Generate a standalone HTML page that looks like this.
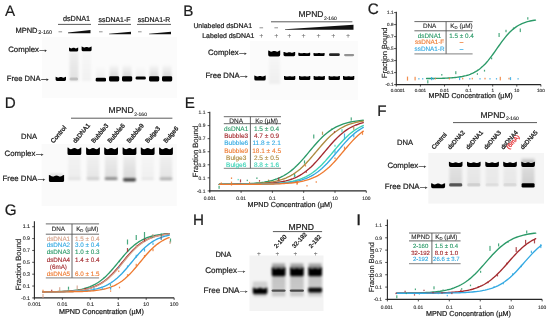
<!DOCTYPE html>
<html><head><meta charset="utf-8"><title>MPND binding figure</title>
<style>
html,body{margin:0;padding:0;background:#fff;width:550px;height:320px;overflow:hidden}
svg{display:block;font-family:"Liberation Sans", Arial, sans-serif;text-rendering:geometricPrecision}
</style></head><body>
<svg width="550" height="320" viewBox="0 0 550 320">
<defs>
<filter id="b1" x="-30%" y="-60%" width="160%" height="220%"><feGaussianBlur stdDeviation="0.6"/></filter>
<filter id="b15" x="-30%" y="-60%" width="160%" height="220%"><feGaussianBlur stdDeviation="0.9"/></filter>
<filter id="b05"><feGaussianBlur stdDeviation="0.6"/></filter>
<filter id="b2" x="-30%" y="-30%" width="160%" height="160%"><feGaussianBlur stdDeviation="1.0"/></filter>
</defs>
<rect width="550" height="320" fill="#fff"/>
<rect x="42" y="37" width="135" height="61" fill="#fbfbfb" />
<text x="4.97" y="15.6" font-size="15.2" text-anchor="start" fill="#1e1e1e" stroke="#1e1e1e" stroke-width="0.12">A</text>
<text x="76.5" y="21.3" font-size="7.3" text-anchor="middle" fill="#1e1e1e" stroke="#1e1e1e" stroke-width="0.22" >dsDNA1</text>
<text x="114.5" y="21.6" font-size="6.9" text-anchor="middle" fill="#1e1e1e" stroke="#1e1e1e" stroke-width="0.22" >ssDNA1-F</text>
<text x="154" y="21.6" font-size="6.9" text-anchor="middle" fill="#1e1e1e" stroke="#1e1e1e" stroke-width="0.22" >ssDNA1-R</text>
<line x1="58" y1="24.4" x2="91" y2="24.4" stroke="#5a5a5a" stroke-width="1.0"/>
<line x1="98" y1="24.4" x2="131" y2="24.4" stroke="#5a5a5a" stroke-width="1.0"/>
<line x1="137" y1="24.4" x2="171" y2="24.4" stroke="#5a5a5a" stroke-width="1.0"/>
<text x="15.4" y="32.7" font-size="7.5" fill="#1e1e1e" stroke="#1e1e1e" stroke-width="0.22">MPND<tspan font-size="5.35" dx="0.7" dy="1.30" stroke-width="0.12">2-160</tspan></text>
<line x1="58.5" y1="31.8" x2="62.1" y2="31.8" stroke="#888" stroke-width="0.9"/>
<line x1="99" y1="31.8" x2="102.6" y2="31.8" stroke="#888" stroke-width="0.9"/>
<line x1="138" y1="31.8" x2="141.6" y2="31.8" stroke="#888" stroke-width="0.9"/>
<polygon points="68,33.2 90.5,33.2 90.5,30.0 68,32.6" fill="#111"/>
<polygon points="109,34.3 131,34.3 131,31.8 109,33.7" fill="#111"/>
<polygon points="149,34.3 171,34.3 171,31.8 149,33.7" fill="#111"/>
<text x="8.2" y="51.9" font-size="7.8" fill="#1e1e1e" stroke="#1e1e1e" stroke-width="0.22">Complex</text>
<text x="37.06" y="51.9" font-size="7.8" fill="#1e1e1e" stroke="#1e1e1e" stroke-width="0.12" textLength="12.33" lengthAdjust="spacingAndGlyphs">→</text>
<text x="6.8" y="80.8" font-size="7.6" fill="#1e1e1e" stroke="#1e1e1e" stroke-width="0.22">Free DNA</text>
<text x="38.67" y="80.8" font-size="7.6" fill="#1e1e1e" stroke="#1e1e1e" stroke-width="0.12" textLength="12.33" lengthAdjust="spacingAndGlyphs">→</text>
<linearGradient id="sg1" x1="0" y1="0" x2="0" y2="1"><stop offset="0" stop-color="#000" stop-opacity="0.05"/><stop offset="1" stop-color="#000" stop-opacity="0.1"/></linearGradient>
<rect x="69.5" y="52" width="9.00" height="29.00" fill="url(#sg1)" filter="url(#b2)"/>
<linearGradient id="sg2" x1="0" y1="0" x2="0" y2="1"><stop offset="0" stop-color="#000" stop-opacity="0.015"/><stop offset="1" stop-color="#000" stop-opacity="0.04"/></linearGradient>
<rect x="82" y="52" width="9.00" height="29.00" fill="url(#sg2)" filter="url(#b2)"/>
<linearGradient id="sg3" x1="0" y1="0" x2="0" y2="1"><stop offset="0" stop-color="#000" stop-opacity="0.0"/><stop offset="1" stop-color="#000" stop-opacity="0.17"/></linearGradient>
<rect x="109.6" y="64" width="8.80" height="15.50" fill="url(#sg3)" filter="url(#b2)"/>
<linearGradient id="sg4" x1="0" y1="0" x2="0" y2="1"><stop offset="0" stop-color="#000" stop-opacity="0.0"/><stop offset="1" stop-color="#000" stop-opacity="0.17"/></linearGradient>
<rect x="122.6" y="64" width="8.80" height="15.50" fill="url(#sg4)" filter="url(#b2)"/>
<linearGradient id="sg5" x1="0" y1="0" x2="0" y2="1"><stop offset="0" stop-color="#000" stop-opacity="0.0"/><stop offset="1" stop-color="#000" stop-opacity="0.17"/></linearGradient>
<rect x="149.6" y="64" width="8.80" height="15.50" fill="url(#sg5)" filter="url(#b2)"/>
<linearGradient id="sg6" x1="0" y1="0" x2="0" y2="1"><stop offset="0" stop-color="#000" stop-opacity="0.0"/><stop offset="1" stop-color="#000" stop-opacity="0.17"/></linearGradient>
<rect x="162.6" y="64" width="8.80" height="15.50" fill="url(#sg6)" filter="url(#b2)"/>
<linearGradient id="sg7" x1="0" y1="0" x2="0" y2="1"><stop offset="0" stop-color="#000" stop-opacity="0.0"/><stop offset="1" stop-color="#000" stop-opacity="0.05"/></linearGradient>
<rect x="96.0" y="66" width="9.20" height="12.00" fill="url(#sg7)" filter="url(#b2)"/>
<linearGradient id="sg8" x1="0" y1="0" x2="0" y2="1"><stop offset="0" stop-color="#000" stop-opacity="0.0"/><stop offset="1" stop-color="#000" stop-opacity="0.05"/></linearGradient>
<rect x="136.0" y="66" width="9.20" height="12.00" fill="url(#sg8)" filter="url(#b2)"/>
<path d="M69.00,50.20 L69.00,47.40 C70.15,47.40 70.15,48.40 71.30,48.40 C72.45,48.40 72.45,47.75 73.60,47.75 C74.75,47.75 74.75,48.40 75.90,48.40 C77.05,48.40 77.05,47.40 78.20,47.40 L78.20,50.20 Q78.20,51.60 76.80,51.60 L70.40,51.60 Q69.00,51.60 69.00,50.20 Z" fill="#000" fill-opacity="1.0" filter="url(#b1)"/>
<path d="M81.60,49.67 L81.60,46.60 C82.85,46.60 82.85,47.60 84.10,47.60 C85.35,47.60 85.35,46.95 86.60,46.95 C87.85,46.95 87.85,47.60 89.10,47.60 C90.35,47.60 90.35,46.60 91.60,46.60 L91.60,49.67 Q91.60,51.20 90.07,51.20 L83.13,51.20 Q81.60,51.20 81.60,49.67 Z" fill="#000" fill-opacity="1.0" filter="url(#b1)"/>
<path d="M55.60,79.60 L55.60,76.80 C56.90,76.80 56.90,77.70 58.20,77.70 C59.50,77.70 59.50,77.11 60.80,77.11 C62.10,77.11 62.10,77.70 63.40,77.70 C64.70,77.70 64.70,76.80 66.00,76.80 L66.00,79.60 Q66.00,81.00 64.60,81.00 L57.00,81.00 Q55.60,81.00 55.60,79.60 Z" fill="#000" fill-opacity="1.0" filter="url(#b1)"/>
<rect x="69.6" y="77.4" width="8.40" height="3.20" rx="1.3" fill="#000" fill-opacity="0.16" filter="url(#b1)"/>
<rect x="95.7" y="77.8" width="10.30" height="3.70" rx="1.3" fill="#000" fill-opacity="1.0" filter="url(#b1)"/>
<rect x="109" y="76.3" width="10.20" height="5.10" rx="1.3" fill="#000" fill-opacity="1.0" filter="url(#b1)"/>
<rect x="122" y="76.3" width="10.20" height="5.10" rx="1.3" fill="#000" fill-opacity="1.0" filter="url(#b1)"/>
<rect x="135.6" y="76.4" width="10.20" height="3.20" rx="1.3" fill="#000" fill-opacity="1.0" filter="url(#b1)"/>
<rect x="149" y="76.3" width="10.20" height="5.10" rx="1.3" fill="#000" fill-opacity="1.0" filter="url(#b1)"/>
<rect x="162" y="76.3" width="10.20" height="5.10" rx="1.3" fill="#000" fill-opacity="1.0" filter="url(#b1)"/>
<rect x="250" y="41" width="108" height="59" fill="#fbfbfb" />
<text x="183.25" y="16.4" font-size="15.2" text-anchor="start" fill="#1e1e1e" stroke="#1e1e1e" stroke-width="0.22" >B</text>
<text x="252" y="28.2" font-size="6.9" text-anchor="end" fill="#1e1e1e" stroke="#1e1e1e" stroke-width="0.22" >Unlabeled dsDNA1</text>
<text x="254.4" y="37.6" font-size="6.9" text-anchor="end" fill="#1e1e1e" stroke="#1e1e1e" stroke-width="0.22" >Labeled dsDNA1</text>
<text x="298.4" y="17.3" font-size="8.5" fill="#1e1e1e" stroke="#1e1e1e" stroke-width="0.22">MPND<tspan font-size="5.01" dx="0.5" dy="2.20" stroke-width="0.12">2-160</tspan></text>
<line x1="271" y1="21.8" x2="352.4" y2="21.8" stroke="#5a5a5a" stroke-width="1.0"/>
<line x1="259.5" y1="27.8" x2="263.1" y2="27.8" stroke="#888" stroke-width="0.9"/>
<line x1="274.4" y1="27.8" x2="278.0" y2="27.8" stroke="#888" stroke-width="0.9"/>
<polygon points="285,29.8 353.5,29.8 353.5,24.8 285,29.2" fill="#111"/>
<text x="261.4" y="38.0" font-size="7" text-anchor="middle" fill="#6a6a6a" stroke="#6a6a6a" stroke-width="0.05" >+</text>
<text x="276.4" y="38.0" font-size="7" text-anchor="middle" fill="#6a6a6a" stroke="#6a6a6a" stroke-width="0.05" >+</text>
<text x="289.4" y="38.0" font-size="7" text-anchor="middle" fill="#6a6a6a" stroke="#6a6a6a" stroke-width="0.05" >+</text>
<text x="303.6" y="38.0" font-size="7" text-anchor="middle" fill="#6a6a6a" stroke="#6a6a6a" stroke-width="0.05" >+</text>
<text x="318.6" y="38.0" font-size="7" text-anchor="middle" fill="#6a6a6a" stroke="#6a6a6a" stroke-width="0.05" >+</text>
<text x="333.4" y="38.0" font-size="7" text-anchor="middle" fill="#6a6a6a" stroke="#6a6a6a" stroke-width="0.05" >+</text>
<text x="348" y="38.0" font-size="7" text-anchor="middle" fill="#6a6a6a" stroke="#6a6a6a" stroke-width="0.05" >+</text>
<text x="208" y="55.1" font-size="7.75" fill="#1e1e1e" stroke="#1e1e1e" stroke-width="0.22">Complex</text>
<text x="236.66" y="55.1" font-size="7.75" fill="#1e1e1e" stroke="#1e1e1e" stroke-width="0.12" textLength="12.33" lengthAdjust="spacingAndGlyphs">→</text>
<text x="205.4" y="78.3" font-size="7.7" fill="#1e1e1e" stroke="#1e1e1e" stroke-width="0.22">Free DNA</text>
<text x="237.71" y="78.3" font-size="7.7" fill="#1e1e1e" stroke="#1e1e1e" stroke-width="0.12" textLength="12.33" lengthAdjust="spacingAndGlyphs">→</text>
<linearGradient id="sg9" x1="0" y1="0" x2="0" y2="1"><stop offset="0" stop-color="#000" stop-opacity="0.02"/><stop offset="1" stop-color="#000" stop-opacity="0.05"/></linearGradient>
<rect x="269" y="57" width="11.00" height="27.00" fill="url(#sg9)" filter="url(#b2)"/>
<path d="M268.20,54.80 L268.20,50.60 C269.70,50.60 269.70,51.70 271.20,51.70 C272.70,51.70 272.70,50.98 274.20,50.98 C275.70,50.98 275.70,51.70 277.20,51.70 C278.70,51.70 278.70,50.60 280.20,50.60 L280.20,54.80 Q280.20,56.40 278.60,56.40 L269.80,56.40 Q268.20,56.40 268.20,54.80 Z" fill="#000" fill-opacity="1.0" filter="url(#b1)"/>
<path d="M283.50,54.87 L283.50,52.00 C284.96,52.00 284.96,52.70 286.43,52.70 C287.89,52.70 287.89,52.24 289.35,52.24 C290.81,52.24 290.81,52.70 292.27,52.70 C293.74,52.70 293.74,52.00 295.20,52.00 L295.20,54.87 Q295.20,56.30 293.77,56.30 L284.93,56.30 Q283.50,56.30 283.50,54.87 Z" fill="#000" fill-opacity="1.0" filter="url(#b1)"/>
<path d="M298.30,54.90 L298.30,52.70 C299.79,52.70 299.79,53.20 301.27,53.20 C302.76,53.20 302.76,52.88 304.25,52.88 C305.74,52.88 305.74,53.20 307.23,53.20 C308.71,53.20 308.71,52.70 310.20,52.70 L310.20,54.90 Q310.20,56.00 309.10,56.00 L299.40,56.00 Q298.30,56.00 298.30,54.90 Z" fill="#000" fill-opacity="1.0" filter="url(#b1)"/>
<path d="M313.50,54.90 L313.50,52.90 C314.89,52.90 314.89,53.30 316.27,53.30 C317.66,53.30 317.66,53.04 319.05,53.04 C320.44,53.04 320.44,53.30 321.83,53.30 C323.21,53.30 323.21,52.90 324.60,52.90 L324.60,54.90 Q324.60,55.90 323.60,55.90 L314.50,55.90 Q313.50,55.90 313.50,54.90 Z" fill="#000" fill-opacity="1.0" filter="url(#b1)"/>
<rect x="329" y="53.3" width="10.80" height="2.70" rx="1.3" fill="#000" fill-opacity="0.85" filter="url(#b1)"/>
<rect x="344" y="54.0" width="10.20" height="2.20" rx="1.3" fill="#000" fill-opacity="0.42" filter="url(#b1)"/>
<path d="M254.30,79.00 L254.30,75.60 C255.73,75.60 255.73,76.60 257.15,76.60 C258.57,76.60 258.57,75.95 260.00,75.95 C261.43,75.95 261.43,76.60 262.85,76.60 C264.27,76.60 264.27,75.60 265.70,75.60 L265.70,79.00 Q265.70,80.60 264.10,80.60 L255.90,80.60 Q254.30,80.60 254.30,79.00 Z" fill="#000" fill-opacity="1.0" filter="url(#b1)"/>
<path d="M284.00,78.63 L284.00,76.10 C285.41,76.10 285.41,76.60 286.82,76.60 C288.24,76.60 288.24,76.27 289.65,76.27 C291.06,76.27 291.06,76.60 292.48,76.60 C293.89,76.60 293.89,76.10 295.30,76.10 L295.30,78.63 Q295.30,79.90 294.03,79.90 L285.27,79.90 Q284.00,79.90 284.00,78.63 Z" fill="#000" fill-opacity="1.0" filter="url(#b1)"/>
<path d="M299.00,78.63 L299.00,76.10 C300.41,76.10 300.41,76.60 301.82,76.60 C303.24,76.60 303.24,76.27 304.65,76.27 C306.06,76.27 306.06,76.60 307.48,76.60 C308.89,76.60 308.89,76.10 310.30,76.10 L310.30,78.63 Q310.30,79.90 309.03,79.90 L300.27,79.90 Q299.00,79.90 299.00,78.63 Z" fill="#000" fill-opacity="1.0" filter="url(#b1)"/>
<path d="M313.60,78.63 L313.60,76.10 C315.01,76.10 315.01,76.60 316.43,76.60 C317.84,76.60 317.84,76.27 319.25,76.27 C320.66,76.27 320.66,76.60 322.08,76.60 C323.49,76.60 323.49,76.10 324.90,76.10 L324.90,78.63 Q324.90,79.90 323.63,79.90 L314.87,79.90 Q313.60,79.90 313.60,78.63 Z" fill="#000" fill-opacity="1.0" filter="url(#b1)"/>
<path d="M328.60,78.63 L328.60,76.10 C330.01,76.10 330.01,76.60 331.43,76.60 C332.84,76.60 332.84,76.27 334.25,76.27 C335.66,76.27 335.66,76.60 337.08,76.60 C338.49,76.60 338.49,76.10 339.90,76.10 L339.90,78.63 Q339.90,79.90 338.63,79.90 L329.87,79.90 Q328.60,79.90 328.60,78.63 Z" fill="#000" fill-opacity="1.0" filter="url(#b1)"/>
<path d="M343.00,78.63 L343.00,76.10 C344.41,76.10 344.41,76.60 345.82,76.60 C347.24,76.60 347.24,76.27 348.65,76.27 C350.06,76.27 350.06,76.60 351.48,76.60 C352.89,76.60 352.89,76.10 354.30,76.10 L354.30,78.63 Q354.30,79.90 353.03,79.90 L344.27,79.90 Q343.00,79.90 343.00,78.63 Z" fill="#000" fill-opacity="1.0" filter="url(#b1)"/>
<text x="367.8" y="13.95" font-size="15.2" text-anchor="start" fill="#1e1e1e" stroke="#1e1e1e" stroke-width="0.22" >C</text>
<line x1="396.3" y1="11.8" x2="396.3" y2="85.19999999999999" stroke="#262626" stroke-width="1.1"/>
<line x1="395.75" y1="84.6" x2="540.9000000000001" y2="84.6" stroke="#262626" stroke-width="1.2"/>
<line x1="394.1" y1="12.59999999999998" x2="396.3" y2="12.59999999999998" stroke="#262626" stroke-width="0.8"/>
<text x="393.5" y="14.34999999999998" font-size="4.6" text-anchor="end" fill="#2c2c2c" stroke="#2c2c2c" stroke-width="0.12" >1.1</text>
<line x1="394.1" y1="24.599999999999994" x2="396.3" y2="24.599999999999994" stroke="#262626" stroke-width="0.8"/>
<text x="393.5" y="26.349999999999994" font-size="4.6" text-anchor="end" fill="#2c2c2c" stroke="#2c2c2c" stroke-width="0.12" >0.9</text>
<line x1="394.1" y1="36.6" x2="396.3" y2="36.6" stroke="#262626" stroke-width="0.8"/>
<text x="393.5" y="38.35" font-size="4.6" text-anchor="end" fill="#2c2c2c" stroke="#2c2c2c" stroke-width="0.12" >0.7</text>
<line x1="394.1" y1="48.599999999999994" x2="396.3" y2="48.599999999999994" stroke="#262626" stroke-width="0.8"/>
<text x="393.5" y="50.349999999999994" font-size="4.6" text-anchor="end" fill="#2c2c2c" stroke="#2c2c2c" stroke-width="0.12" >0.5</text>
<line x1="394.1" y1="60.599999999999994" x2="396.3" y2="60.599999999999994" stroke="#262626" stroke-width="0.8"/>
<text x="393.5" y="62.349999999999994" font-size="4.6" text-anchor="end" fill="#2c2c2c" stroke="#2c2c2c" stroke-width="0.12" >0.3</text>
<line x1="394.1" y1="72.6" x2="396.3" y2="72.6" stroke="#262626" stroke-width="0.8"/>
<text x="393.5" y="74.35" font-size="4.6" text-anchor="end" fill="#2c2c2c" stroke="#2c2c2c" stroke-width="0.12" >0.1</text>
<line x1="394.1" y1="84.6" x2="396.3" y2="84.6" stroke="#262626" stroke-width="0.8"/>
<text x="393.5" y="86.35" font-size="4.6" text-anchor="end" fill="#2c2c2c" stroke="#2c2c2c" stroke-width="0.12" >-0.1</text>
<line x1="396.3" y1="84.6" x2="396.3" y2="86.6" stroke="#262626" stroke-width="0.8"/>
<text x="397.8" y="91.6" font-size="4.6" text-anchor="middle" fill="#2c2c2c" stroke="#2c2c2c" stroke-width="0.12" >0.0001</text>
<line x1="420.40000000000003" y1="84.6" x2="420.40000000000003" y2="86.6" stroke="#262626" stroke-width="0.8"/>
<text x="420.40000000000003" y="91.6" font-size="4.6" text-anchor="middle" fill="#2c2c2c" stroke="#2c2c2c" stroke-width="0.12" >0.001</text>
<line x1="444.5" y1="84.6" x2="444.5" y2="86.6" stroke="#262626" stroke-width="0.8"/>
<text x="444.5" y="91.6" font-size="4.6" text-anchor="middle" fill="#2c2c2c" stroke="#2c2c2c" stroke-width="0.12" >0.01</text>
<line x1="468.6" y1="84.6" x2="468.6" y2="86.6" stroke="#262626" stroke-width="0.8"/>
<text x="468.6" y="91.6" font-size="4.6" text-anchor="middle" fill="#2c2c2c" stroke="#2c2c2c" stroke-width="0.12" >0.1</text>
<line x1="492.70000000000005" y1="84.6" x2="492.70000000000005" y2="86.6" stroke="#262626" stroke-width="0.8"/>
<text x="492.70000000000005" y="91.6" font-size="4.6" text-anchor="middle" fill="#2c2c2c" stroke="#2c2c2c" stroke-width="0.12" >1</text>
<line x1="516.8" y1="84.6" x2="516.8" y2="86.6" stroke="#262626" stroke-width="0.8"/>
<text x="516.8" y="91.6" font-size="4.6" text-anchor="middle" fill="#2c2c2c" stroke="#2c2c2c" stroke-width="0.12" >10</text>
<line x1="540.9000000000001" y1="84.6" x2="540.9000000000001" y2="86.6" stroke="#262626" stroke-width="0.8"/>
<text x="540.9000000000001" y="91.6" font-size="4.6" text-anchor="middle" fill="#2c2c2c" stroke="#2c2c2c" stroke-width="0.12" >100</text>
<text x="470.6" y="98.3" font-size="7.15" text-anchor="middle" fill="#1e1e1e" stroke="#1e1e1e" stroke-width="0.22" >MPND Concentration (µM)</text>
<text x="386.7" y="52.8" font-size="7.45" text-anchor="middle" fill="#1e1e1e" stroke="#1e1e1e" stroke-width="0.15" transform="rotate(-90 386.7 52.8)">Fraction Bound</text>
<polyline points="426.55,78.53 427.91,78.52 429.28,78.51 430.64,78.49 432.00,78.48 433.36,78.46 434.73,78.44 436.09,78.42 437.45,78.40 438.81,78.37 440.18,78.34 441.54,78.30 442.90,78.26 444.26,78.21 445.63,78.16 446.99,78.10 448.35,78.03 449.71,77.95 451.08,77.86 452.44,77.76 453.80,77.64 455.16,77.51 456.53,77.36 457.89,77.20 459.25,77.01 460.61,76.79 461.98,76.55 463.34,76.27 464.70,75.96 466.07,75.62 467.43,75.23 468.79,74.79 470.15,74.29 471.52,73.74 472.88,73.13 474.24,72.45 475.60,71.69 476.97,70.85 478.33,69.93 479.69,68.92 481.05,67.82 482.42,66.62 483.78,65.32 485.14,63.93 486.50,62.43 487.87,60.85 489.23,59.18 490.59,57.44 491.95,55.62 493.32,53.75 494.68,51.83 496.04,49.89 497.40,47.94 498.77,46.00 500.13,44.07 501.49,42.18 502.85,40.35 504.22,38.58 505.58,36.88 506.94,35.27 508.30,33.75 509.67,32.32 511.03,30.99 512.39,29.76 513.75,28.63 515.12,27.59 516.48,26.64 517.84,25.77 519.20,24.99 520.57,24.29 521.93,23.65 523.29,23.08 524.65,22.57 526.02,22.11 527.38,21.71 528.74,21.34 530.10,21.02 531.47,20.74 532.83,20.48 534.19,20.26 535.55,20.06" fill="none" stroke="#2b9a68" stroke-width="1.35" stroke-linecap="round"/>
<rect x="406.90" y="76.60" width="1.2" height="4.00" fill="#ee7a30" fill-opacity="0.85"/>
<rect x="414.50" y="76.80" width="1.2" height="3.60" fill="#ee7a30" fill-opacity="0.85"/>
<rect x="434.80" y="77.80" width="1.2" height="1.60" fill="#ee7a30" fill-opacity="0.85"/>
<rect x="448.80" y="77.80" width="1.2" height="1.60" fill="#ee7a30" fill-opacity="0.85"/>
<rect x="462.10" y="77.80" width="1.2" height="1.60" fill="#ee7a30" fill-opacity="0.85"/>
<rect x="471.70" y="77.80" width="1.2" height="1.60" fill="#ee7a30" fill-opacity="0.85"/>
<rect x="484.40" y="77.80" width="1.2" height="1.60" fill="#ee7a30" fill-opacity="0.85"/>
<rect x="499.70" y="76.80" width="1.2" height="3.60" fill="#ee7a30" fill-opacity="0.85"/>
<rect x="508.40" y="77.80" width="1.2" height="1.60" fill="#ee7a30" fill-opacity="0.85"/>
<rect x="418.30" y="78.10" width="1.2" height="1.40" fill="#33a9e2" fill-opacity="0.85"/>
<rect x="422.10" y="78.10" width="1.2" height="1.40" fill="#33a9e2" fill-opacity="0.85"/>
<rect x="431.00" y="77.00" width="1.2" height="3.20" fill="#33a9e2" fill-opacity="0.85"/>
<rect x="433.10" y="78.10" width="1.2" height="1.40" fill="#33a9e2" fill-opacity="0.85"/>
<rect x="459.00" y="77.10" width="1.2" height="3.00" fill="#33a9e2" fill-opacity="0.85"/>
<rect x="469.20" y="78.10" width="1.2" height="1.40" fill="#33a9e2" fill-opacity="0.85"/>
<rect x="479.40" y="78.10" width="1.2" height="1.40" fill="#33a9e2" fill-opacity="0.85"/>
<rect x="489.40" y="78.10" width="1.2" height="1.40" fill="#33a9e2" fill-opacity="0.85"/>
<rect x="495.90" y="78.10" width="1.2" height="1.40" fill="#33a9e2" fill-opacity="0.85"/>
<rect x="509.90" y="77.10" width="1.2" height="3.00" fill="#33a9e2" fill-opacity="0.85"/>
<rect x="517.50" y="78.10" width="1.2" height="1.40" fill="#33a9e2" fill-opacity="0.85"/>
<rect x="427.20" y="80.20" width="1.2" height="3.20" fill="#2b9a68" fill-opacity="0.85"/>
<rect x="441.20" y="74.00" width="1.2" height="1.60" fill="#2b9a68" fill-opacity="0.85"/>
<rect x="455.20" y="71.20" width="1.2" height="3.00" fill="#2b9a68" fill-opacity="0.85"/>
<rect x="476.80" y="73.20" width="1.2" height="1.60" fill="#2b9a68" fill-opacity="0.85"/>
<rect x="483.90" y="69.80" width="1.2" height="1.80" fill="#2b9a68" fill-opacity="0.85"/>
<rect x="491.00" y="57.50" width="1.2" height="1.80" fill="#2b9a68" fill-opacity="0.85"/>
<rect x="498.50" y="33.00" width="1.2" height="4.00" fill="#2b9a68" fill-opacity="0.85"/>
<rect x="505.40" y="29.80" width="1.2" height="2.40" fill="#2b9a68" fill-opacity="0.85"/>
<rect x="512.90" y="27.50" width="1.2" height="1.80" fill="#2b9a68" fill-opacity="0.85"/>
<rect x="519.70" y="28.50" width="1.2" height="3.60" fill="#2b9a68" fill-opacity="0.85"/>
<rect x="527.20" y="17.20" width="1.2" height="2.40" fill="#2b9a68" fill-opacity="0.85"/>
<line x1="414.4" y1="21.6" x2="472.6" y2="21.6" stroke="#6a6a6a" stroke-width="1.0"/>
<line x1="414.4" y1="30.8" x2="472.6" y2="30.8" stroke="#6a6a6a" stroke-width="1.0"/>
<line x1="414.4" y1="53.8" x2="472.6" y2="53.8" stroke="#9a9a9a" stroke-width="1.3"/>
<line x1="446.1" y1="21.6" x2="446.1" y2="53.8" stroke="#555" stroke-width="0.9"/>
<text x="429.6" y="28.486000000000004" font-size="6.35" text-anchor="middle" fill="#1e1e1e" stroke="#1e1e1e" stroke-width="0.1" >DNA</text>
<text x="461.5" y="28.486000000000004" font-size="6.35" text-anchor="middle" fill="#1e1e1e" stroke="#1e1e1e" stroke-width="0.1">K<tspan font-size="4.3180000000000005" dy="0.9">D</tspan><tspan dy="-0.9"> (µM)</tspan></text>
<text x="429.6" y="37.586" font-size="6.35" text-anchor="middle" fill="#2b9a68" stroke="#2b9a68" stroke-width="0.12" >dsDNA1</text>
<text x="461.5" y="37.586" font-size="6.35" text-anchor="middle" fill="#2b9a68" stroke="#2b9a68" stroke-width="0.12" >1.5 ± 0.4</text>
<text x="429.6" y="44.186" font-size="6.35" text-anchor="middle" fill="#ee7a30" stroke="#ee7a30" stroke-width="0.12" >ssDNA1-F</text>
<text x="461.5" y="44.186" font-size="6.35" text-anchor="middle" fill="#ee7a30" stroke="#ee7a30" stroke-width="0.12" >–</text>
<text x="429.6" y="50.986000000000004" font-size="6.35" text-anchor="middle" fill="#33a9e2" stroke="#33a9e2" stroke-width="0.12" >ssDNA1-R</text>
<text x="461.5" y="50.986000000000004" font-size="6.35" text-anchor="middle" fill="#33a9e2" stroke="#33a9e2" stroke-width="0.12" >–</text>
<rect x="41.6" y="144" width="135.2" height="62" fill="#fafafa" />
<text x="4.65" y="107.5" font-size="15.2" text-anchor="start" fill="#1e1e1e" stroke="#1e1e1e" stroke-width="0.22" >D</text>
<text x="108.6" y="113.4" font-size="8.5" fill="#1e1e1e" stroke="#1e1e1e" stroke-width="0.22">MPND<tspan font-size="5.01" dx="0.5" dy="2.20" stroke-width="0.12">2-160</tspan></text>
<line x1="71" y1="118.2" x2="172.4" y2="118.2" stroke="#5a5a5a" stroke-width="1.0"/>
<text x="21" y="139.2" font-size="7.6" text-anchor="start" fill="#1e1e1e" stroke="#1e1e1e" stroke-width="0.22" >DNA</text>
<text x="53.6" y="143.6" font-size="6.3" fill="#1e1e1e" stroke="#1e1e1e" stroke-width="0.3" transform="rotate(-50 53.6 143.6)">Control</text>
<text x="75.4" y="143.6" font-size="6.3" fill="#1e1e1e" stroke="#1e1e1e" stroke-width="0.3" transform="rotate(-50 75.4 143.6)">dsDNA1</text>
<text x="94" y="143.6" font-size="6.3" fill="#1e1e1e" stroke="#1e1e1e" stroke-width="0.3" transform="rotate(-50 94 143.6)">Bubble3</text>
<text x="110.3" y="143.6" font-size="6.3" fill="#1e1e1e" stroke="#1e1e1e" stroke-width="0.3" transform="rotate(-50 110.3 143.6)">Bubble6</text>
<text x="129.4" y="143.6" font-size="6.3" fill="#1e1e1e" stroke="#1e1e1e" stroke-width="0.3" transform="rotate(-50 129.4 143.6)">Bubble9</text>
<text x="148.0" y="143.6" font-size="6.3" fill="#1e1e1e" stroke="#1e1e1e" stroke-width="0.3" transform="rotate(-50 148.0 143.6)">Bulge3</text>
<text x="166.2" y="143.6" font-size="6.3" fill="#1e1e1e" stroke="#1e1e1e" stroke-width="0.3" transform="rotate(-50 166.2 143.6)">Bulge6</text>
<text x="4.6" y="155.9" font-size="7.8" fill="#1e1e1e" stroke="#1e1e1e" stroke-width="0.22">Complex</text>
<text x="33.46" y="155.9" font-size="7.8" fill="#1e1e1e" stroke="#1e1e1e" stroke-width="0.12" textLength="12.33" lengthAdjust="spacingAndGlyphs">→</text>
<text x="2.6" y="180.6" font-size="7.8" fill="#1e1e1e" stroke="#1e1e1e" stroke-width="0.22">Free DNA</text>
<text x="35.36" y="180.6" font-size="7.8" fill="#1e1e1e" stroke="#1e1e1e" stroke-width="0.12" textLength="12.33" lengthAdjust="spacingAndGlyphs">→</text>
<linearGradient id="sg10" x1="0" y1="0" x2="0" y2="1"><stop offset="0" stop-color="#000" stop-opacity="0.03"/><stop offset="1" stop-color="#000" stop-opacity="0.05"/></linearGradient>
<rect x="68.2" y="156" width="12.40" height="24.00" fill="url(#sg10)" filter="url(#b2)"/>
<linearGradient id="sg11" x1="0" y1="0" x2="0" y2="1"><stop offset="0" stop-color="#000" stop-opacity="0.04"/><stop offset="1" stop-color="#000" stop-opacity="0.08"/></linearGradient>
<rect x="86.8" y="156" width="12.40" height="24.00" fill="url(#sg11)" filter="url(#b2)"/>
<linearGradient id="sg12" x1="0" y1="0" x2="0" y2="1"><stop offset="0" stop-color="#000" stop-opacity="0.05"/><stop offset="1" stop-color="#000" stop-opacity="0.12"/></linearGradient>
<rect x="104.89999999999999" y="156" width="12.40" height="24.00" fill="url(#sg12)" filter="url(#b2)"/>
<linearGradient id="sg13" x1="0" y1="0" x2="0" y2="1"><stop offset="0" stop-color="#000" stop-opacity="0.05"/><stop offset="1" stop-color="#000" stop-opacity="0.14"/></linearGradient>
<rect x="123.3" y="156" width="12.40" height="24.00" fill="url(#sg13)" filter="url(#b2)"/>
<linearGradient id="sg14" x1="0" y1="0" x2="0" y2="1"><stop offset="0" stop-color="#000" stop-opacity="0.02"/><stop offset="1" stop-color="#000" stop-opacity="0.04"/></linearGradient>
<rect x="141.5" y="156" width="12.40" height="24.00" fill="url(#sg14)" filter="url(#b2)"/>
<linearGradient id="sg15" x1="0" y1="0" x2="0" y2="1"><stop offset="0" stop-color="#000" stop-opacity="0.04"/><stop offset="1" stop-color="#000" stop-opacity="0.09"/></linearGradient>
<rect x="159.8" y="156" width="12.40" height="24.00" fill="url(#sg15)" filter="url(#b2)"/>
<path d="M48.90,180.40 L48.90,175.00 C50.80,175.00 50.80,176.60 52.70,176.60 C54.60,176.60 54.60,175.56 56.50,175.56 C58.40,175.56 58.40,176.60 60.30,176.60 C62.20,176.60 62.20,175.00 64.10,175.00 L64.10,180.40 Q64.10,182.00 62.50,182.00 L50.50,182.00 Q48.90,182.00 48.90,180.40 Z" fill="#000" fill-opacity="1.0" filter="url(#b1)"/>
<rect x="49.5" y="173.6" width="14.00" height="2.60" rx="1.3" fill="#000" fill-opacity="0.1" filter="url(#b15)"/>
<path d="M67.50,153.40 L67.50,147.40 C69.22,147.40 69.22,149.30 70.95,149.30 C72.68,149.30 72.68,148.06 74.40,148.06 C76.12,148.06 76.12,149.30 77.85,149.30 C79.58,149.30 79.58,147.40 81.30,147.40 L81.30,153.40 Q81.30,155.00 79.70,155.00 L69.10,155.00 Q67.50,155.00 67.50,153.40 Z" fill="#000" fill-opacity="1.0" filter="url(#b1)"/>
<rect x="68.0" y="177.2" width="12.80" height="3.00" rx="1.3" fill="#000" fill-opacity="0.05" filter="url(#b15)"/>
<path d="M86.10,153.40 L86.10,147.40 C87.82,147.40 87.82,149.30 89.55,149.30 C91.28,149.30 91.28,148.06 93.00,148.06 C94.72,148.06 94.72,149.30 96.45,149.30 C98.18,149.30 98.18,147.40 99.90,147.40 L99.90,153.40 Q99.90,155.00 98.30,155.00 L87.70,155.00 Q86.10,155.00 86.10,153.40 Z" fill="#000" fill-opacity="1.0" filter="url(#b1)"/>
<rect x="86.6" y="177.2" width="12.80" height="3.00" rx="1.3" fill="#000" fill-opacity="0.1" filter="url(#b15)"/>
<path d="M104.20,153.40 L104.20,147.40 C105.92,147.40 105.92,149.30 107.65,149.30 C109.38,149.30 109.38,148.06 111.10,148.06 C112.82,148.06 112.82,149.30 114.55,149.30 C116.28,149.30 116.28,147.40 118.00,147.40 L118.00,153.40 Q118.00,155.00 116.40,155.00 L105.80,155.00 Q104.20,155.00 104.20,153.40 Z" fill="#000" fill-opacity="1.0" filter="url(#b1)"/>
<rect x="104.69999999999999" y="177.2" width="12.80" height="2.80" rx="1.3" fill="#000" fill-opacity="0.38" filter="url(#b15)"/>
<path d="M122.60,153.40 L122.60,147.40 C124.32,147.40 124.32,149.30 126.05,149.30 C127.78,149.30 127.78,148.06 129.50,148.06 C131.22,148.06 131.22,149.30 132.95,149.30 C134.68,149.30 134.68,147.40 136.40,147.40 L136.40,153.40 Q136.40,155.00 134.80,155.00 L124.20,155.00 Q122.60,155.00 122.60,153.40 Z" fill="#000" fill-opacity="1.0" filter="url(#b1)"/>
<rect x="123.1" y="178.2" width="12.80" height="3.20" rx="1.3" fill="#000" fill-opacity="0.72" filter="url(#b15)"/>
<path d="M140.80,153.40 L140.80,147.40 C142.52,147.40 142.52,149.30 144.25,149.30 C145.97,149.30 145.97,148.06 147.70,148.06 C149.42,148.06 149.42,149.30 151.15,149.30 C152.88,149.30 152.88,147.40 154.60,147.40 L154.60,153.40 Q154.60,155.00 153.00,155.00 L142.40,155.00 Q140.80,155.00 140.80,153.40 Z" fill="#000" fill-opacity="1.0" filter="url(#b1)"/>
<rect x="141.29999999999998" y="177.5" width="12.80" height="2.70" rx="1.3" fill="#000" fill-opacity="0.04" filter="url(#b15)"/>
<path d="M159.10,153.40 L159.10,147.40 C160.82,147.40 160.82,149.30 162.55,149.30 C164.28,149.30 164.28,148.06 166.00,148.06 C167.72,148.06 167.72,149.30 169.45,149.30 C171.18,149.30 171.18,147.40 172.90,147.40 L172.90,153.40 Q172.90,155.00 171.30,155.00 L160.70,155.00 Q159.10,155.00 159.10,153.40 Z" fill="#000" fill-opacity="1.0" filter="url(#b1)"/>
<rect x="159.6" y="177.4" width="12.80" height="2.80" rx="1.3" fill="#000" fill-opacity="0.24" filter="url(#b15)"/>
<text x="184.65" y="107.8" font-size="15.2" text-anchor="start" fill="#1e1e1e" stroke="#1e1e1e" stroke-width="0.22" >E</text>
<line x1="209.8" y1="111.8" x2="209.8" y2="191.5" stroke="#262626" stroke-width="1.1"/>
<line x1="209.25" y1="190.9" x2="366.3" y2="190.9" stroke="#262626" stroke-width="1.2"/>
<line x1="207.60000000000002" y1="112.53999999999999" x2="209.8" y2="112.53999999999999" stroke="#262626" stroke-width="0.8"/>
<text x="205.4" y="114.28999999999999" font-size="4.9" text-anchor="end" fill="#2c2c2c" stroke="#2c2c2c" stroke-width="0.12" >1.1</text>
<line x1="207.60000000000002" y1="125.60000000000001" x2="209.8" y2="125.60000000000001" stroke="#262626" stroke-width="0.8"/>
<text x="205.4" y="127.35000000000001" font-size="4.9" text-anchor="end" fill="#2c2c2c" stroke="#2c2c2c" stroke-width="0.12" >0.9</text>
<line x1="207.60000000000002" y1="138.66000000000003" x2="209.8" y2="138.66000000000003" stroke="#262626" stroke-width="0.8"/>
<text x="205.4" y="140.41000000000003" font-size="4.9" text-anchor="end" fill="#2c2c2c" stroke="#2c2c2c" stroke-width="0.12" >0.7</text>
<line x1="207.60000000000002" y1="151.72" x2="209.8" y2="151.72" stroke="#262626" stroke-width="0.8"/>
<text x="205.4" y="153.47" font-size="4.9" text-anchor="end" fill="#2c2c2c" stroke="#2c2c2c" stroke-width="0.12" >0.5</text>
<line x1="207.60000000000002" y1="164.78" x2="209.8" y2="164.78" stroke="#262626" stroke-width="0.8"/>
<text x="205.4" y="166.53" font-size="4.9" text-anchor="end" fill="#2c2c2c" stroke="#2c2c2c" stroke-width="0.12" >0.3</text>
<line x1="207.60000000000002" y1="177.84" x2="209.8" y2="177.84" stroke="#262626" stroke-width="0.8"/>
<text x="205.4" y="179.59" font-size="4.9" text-anchor="end" fill="#2c2c2c" stroke="#2c2c2c" stroke-width="0.12" >0.1</text>
<line x1="207.60000000000002" y1="190.9" x2="209.8" y2="190.9" stroke="#262626" stroke-width="0.8"/>
<text x="205.4" y="192.65" font-size="4.9" text-anchor="end" fill="#2c2c2c" stroke="#2c2c2c" stroke-width="0.12" >-0.1</text>
<line x1="209.8" y1="190.9" x2="209.8" y2="192.9" stroke="#262626" stroke-width="0.8"/>
<text x="209.8" y="199.6" font-size="4.9" text-anchor="middle" fill="#2c2c2c" stroke="#2c2c2c" stroke-width="0.12" >0.001</text>
<line x1="241.10000000000002" y1="190.9" x2="241.10000000000002" y2="192.9" stroke="#262626" stroke-width="0.8"/>
<text x="241.10000000000002" y="199.6" font-size="4.9" text-anchor="middle" fill="#2c2c2c" stroke="#2c2c2c" stroke-width="0.12" >0.01</text>
<line x1="272.40000000000003" y1="190.9" x2="272.40000000000003" y2="192.9" stroke="#262626" stroke-width="0.8"/>
<text x="272.40000000000003" y="199.6" font-size="4.9" text-anchor="middle" fill="#2c2c2c" stroke="#2c2c2c" stroke-width="0.12" >0.1</text>
<line x1="303.70000000000005" y1="190.9" x2="303.70000000000005" y2="192.9" stroke="#262626" stroke-width="0.8"/>
<text x="303.70000000000005" y="199.6" font-size="4.9" text-anchor="middle" fill="#2c2c2c" stroke="#2c2c2c" stroke-width="0.12" >1</text>
<line x1="335.0" y1="190.9" x2="335.0" y2="192.9" stroke="#262626" stroke-width="0.8"/>
<text x="335.0" y="199.6" font-size="4.9" text-anchor="middle" fill="#2c2c2c" stroke="#2c2c2c" stroke-width="0.12" >10</text>
<line x1="366.3" y1="190.9" x2="366.3" y2="192.9" stroke="#262626" stroke-width="0.8"/>
<text x="366.3" y="199.6" font-size="4.9" text-anchor="middle" fill="#2c2c2c" stroke="#2c2c2c" stroke-width="0.12" >100</text>
<text x="290" y="207.3" font-size="7.2" text-anchor="middle" fill="#1e1e1e" stroke="#1e1e1e" stroke-width="0.22" >MPND Concentration (µM)</text>
<text x="198.0" y="151.5" font-size="7.6" text-anchor="middle" fill="#1e1e1e" stroke="#1e1e1e" stroke-width="0.15" transform="rotate(-90 198.0 151.5)">Fraction Bound</text>
<polyline points="219.22,184.28 221.02,184.27 222.82,184.26 224.62,184.24 226.42,184.22 228.23,184.20 230.03,184.18 231.83,184.15 233.63,184.12 235.43,184.08 237.23,184.04 239.03,184.00 240.83,183.95 242.63,183.89 244.43,183.82 246.23,183.74 248.03,183.65 249.83,183.55 251.63,183.44 253.43,183.31 255.23,183.16 257.03,182.99 258.83,182.80 260.64,182.59 262.44,182.34 264.24,182.07 266.04,181.75 267.84,181.40 269.64,181.00 271.44,180.55 273.24,180.05 275.04,179.48 276.84,178.85 278.64,178.14 280.44,177.35 282.24,176.48 284.04,175.51 285.84,174.45 287.64,173.28 289.44,172.01 291.24,170.62 293.05,169.13 294.85,167.53 296.65,165.82 298.45,164.01 300.25,162.11 302.05,160.13 303.85,158.08 305.65,155.97 307.45,153.83 309.25,151.67 311.05,149.51 312.85,147.38 314.65,145.27 316.45,143.22 318.25,141.25 320.05,139.35 321.85,137.54 323.65,135.84 325.46,134.24 327.26,132.76 329.06,131.38 330.86,130.11 332.66,128.95 334.46,127.89 336.26,126.92 338.06,126.05 339.86,125.27 341.66,124.57 343.46,123.93 345.26,123.37 347.06,122.87 348.86,122.42 350.66,122.02 352.46,121.67 354.26,121.36 356.06,121.09 357.87,120.84 359.67,120.63 361.47,120.44 363.27,120.27" fill="none" stroke="#2b9a68" stroke-width="1.35" stroke-linecap="round"/>
<polyline points="219.22,184.32 221.02,184.31 222.82,184.30 224.62,184.29 226.42,184.28 228.23,184.27 230.03,184.25 231.83,184.24 233.63,184.22 235.43,184.20 237.23,184.17 239.03,184.15 240.83,184.11 242.63,184.08 244.43,184.04 246.23,183.99 248.03,183.94 249.83,183.88 251.63,183.81 253.43,183.73 255.23,183.64 257.03,183.54 258.83,183.42 260.64,183.29 262.44,183.14 264.24,182.97 266.04,182.77 267.84,182.55 269.64,182.31 271.44,182.02 273.24,181.71 275.04,181.35 276.84,180.94 278.64,180.48 280.44,179.97 282.24,179.39 284.04,178.75 285.84,178.03 287.64,177.23 289.44,176.34 291.24,175.36 293.05,174.28 294.85,173.10 296.65,171.81 298.45,170.42 300.25,168.91 302.05,167.29 303.85,165.57 305.65,163.75 307.45,161.83 309.25,159.84 311.05,157.78 312.85,155.67 314.65,153.52 316.45,151.36 318.25,149.21 320.05,147.07 321.85,144.97 323.65,142.94 325.46,140.97 327.26,139.08 329.06,137.29 330.86,135.61 332.66,134.02 334.46,132.55 336.26,131.19 338.06,129.94 339.86,128.79 341.66,127.74 343.46,126.79 345.26,125.94 347.06,125.16 348.86,124.47 350.66,123.85 352.46,123.30 354.26,122.80 356.06,122.36 357.87,121.97 359.67,121.63 361.47,121.32 363.27,121.05" fill="none" stroke="#ad8b40" stroke-width="1.35" stroke-linecap="round"/>
<polyline points="219.22,184.34 221.02,184.34 222.82,184.33 224.62,184.33 226.42,184.32 228.23,184.32 230.03,184.31 231.83,184.30 233.63,184.29 235.43,184.28 237.23,184.27 239.03,184.25 240.83,184.23 242.63,184.21 244.43,184.19 246.23,184.17 248.03,184.14 249.83,184.11 251.63,184.07 253.43,184.03 255.23,183.98 257.03,183.92 258.83,183.86 260.64,183.79 262.44,183.71 264.24,183.62 266.04,183.51 267.84,183.39 269.64,183.26 271.44,183.10 273.24,182.92 275.04,182.73 276.84,182.50 278.64,182.24 280.44,181.95 282.24,181.62 284.04,181.25 285.84,180.84 287.64,180.37 289.44,179.84 291.24,179.25 293.05,178.59 294.85,177.85 296.65,177.03 298.45,176.12 300.25,175.12 302.05,174.02 303.85,172.81 305.65,171.50 307.45,170.07 309.25,168.54 311.05,166.90 312.85,165.15 314.65,163.30 316.45,161.37 318.25,159.36 320.05,157.29 321.85,155.17 323.65,153.02 325.46,150.86 327.26,148.70 329.06,146.58 330.86,144.49 332.66,142.47 334.46,140.52 336.26,138.66 338.06,136.89 339.86,135.23 341.66,133.67 343.46,132.22 345.26,130.89 347.06,129.66 348.86,128.53 350.66,127.51 352.46,126.59 354.26,125.75 356.06,125.00 357.87,124.32 359.67,123.71 361.47,123.17 363.27,122.69" fill="none" stroke="#a32a2e" stroke-width="1.35" stroke-linecap="round"/>
<polyline points="219.22,184.36 221.02,184.35 222.82,184.35 224.62,184.35 226.42,184.34 228.23,184.34 230.03,184.34 231.83,184.33 233.63,184.33 235.43,184.32 237.23,184.31 239.03,184.31 240.83,184.30 242.63,184.29 244.43,184.28 246.23,184.26 248.03,184.25 249.83,184.23 251.63,184.21 253.43,184.19 255.23,184.16 257.03,184.13 258.83,184.10 260.64,184.06 262.44,184.02 264.24,183.97 266.04,183.91 267.84,183.84 269.64,183.77 271.44,183.69 273.24,183.59 275.04,183.48 276.84,183.36 278.64,183.22 280.44,183.06 282.24,182.87 284.04,182.67 285.84,182.43 287.64,182.17 289.44,181.87 291.24,181.53 293.05,181.15 294.85,180.72 296.65,180.23 298.45,179.69 300.25,179.08 302.05,178.40 303.85,177.64 305.65,176.80 307.45,175.87 309.25,174.84 311.05,173.71 312.85,172.47 314.65,171.13 316.45,169.68 318.25,168.11 320.05,166.44 321.85,164.67 323.65,162.80 325.46,160.85 327.26,158.82 329.06,156.73 330.86,154.60 332.66,152.45 334.46,150.29 336.26,148.14 338.06,146.02 339.86,143.95 341.66,141.94 343.46,140.02 345.26,138.18 347.06,136.44 348.86,134.80 350.66,133.28 352.46,131.86 354.26,130.55 356.06,129.35 357.87,128.25 359.67,127.26 361.47,126.36 363.27,125.54" fill="none" stroke="#3ad3b6" stroke-width="1.35" stroke-linecap="round"/>
<polyline points="219.22,184.36 221.02,184.36 222.82,184.36 224.62,184.35 226.42,184.35 228.23,184.35 230.03,184.35 231.83,184.34 233.63,184.34 235.43,184.33 237.23,184.33 239.03,184.32 240.83,184.32 242.63,184.31 244.43,184.30 246.23,184.29 248.03,184.28 249.83,184.26 251.63,184.25 253.43,184.23 255.23,184.21 257.03,184.19 258.83,184.17 260.64,184.14 262.44,184.11 264.24,184.07 266.04,184.03 267.84,183.98 269.64,183.92 271.44,183.86 273.24,183.79 275.04,183.70 276.84,183.61 278.64,183.51 280.44,183.39 282.24,183.25 284.04,183.09 285.84,182.92 287.64,182.71 289.44,182.49 291.24,182.23 293.05,181.94 294.85,181.61 296.65,181.23 298.45,180.81 300.25,180.34 302.05,179.81 303.85,179.22 305.65,178.55 307.45,177.81 309.25,176.99 311.05,176.07 312.85,175.07 314.65,173.96 316.45,172.75 318.25,171.43 320.05,170.00 321.85,168.46 323.65,166.81 325.46,165.06 327.26,163.21 329.06,161.27 330.86,159.26 332.66,157.18 334.46,155.06 336.26,152.91 338.06,150.75 339.86,148.60 341.66,146.47 343.46,144.39 345.26,142.37 347.06,140.42 348.86,138.56 350.66,136.80 352.46,135.14 354.26,133.59 356.06,132.15 357.87,130.82 359.67,129.60 361.47,128.48 363.27,127.46" fill="none" stroke="#33a9e2" stroke-width="1.35" stroke-linecap="round"/>
<polyline points="219.22,184.36 221.02,184.36 222.82,184.36 224.62,184.36 226.42,184.36 228.23,184.36 230.03,184.35 231.83,184.35 233.63,184.35 235.43,184.35 237.23,184.34 239.03,184.34 240.83,184.33 242.63,184.33 244.43,184.32 246.23,184.32 248.03,184.31 249.83,184.30 251.63,184.29 253.43,184.28 255.23,184.27 257.03,184.25 258.83,184.24 260.64,184.22 262.44,184.20 264.24,184.17 266.04,184.14 267.84,184.11 269.64,184.08 271.44,184.04 273.24,183.99 275.04,183.93 276.84,183.87 278.64,183.80 280.44,183.72 282.24,183.63 284.04,183.53 285.84,183.41 287.64,183.28 289.44,183.13 291.24,182.96 293.05,182.76 294.85,182.54 296.65,182.29 298.45,182.01 300.25,181.69 302.05,181.32 303.85,180.92 305.65,180.46 307.45,179.94 309.25,179.36 311.05,178.71 312.85,177.99 314.65,177.18 316.45,176.29 318.25,175.31 320.05,174.22 321.85,173.03 323.65,171.74 325.46,170.34 327.26,168.82 329.06,167.20 330.86,165.47 332.66,163.64 334.46,161.73 336.26,159.73 338.06,157.67 339.86,155.55 341.66,153.41 343.46,151.25 345.26,149.09 347.06,146.95 348.86,144.86 350.66,142.83 352.46,140.86 354.26,138.98 356.06,137.20 357.87,135.52 359.67,133.94 361.47,132.47 363.27,131.12" fill="none" stroke="#ee7a30" stroke-width="1.35" stroke-linecap="round"/>
<rect x="218.50" y="185.80" width="1.2" height="3.00" fill="#2b9a68" fill-opacity="0.85"/>
<rect x="220.70" y="182.40" width="1.2" height="2.40" fill="#ee7a30" fill-opacity="0.85"/>
<rect x="230.90" y="177.40" width="1.2" height="1.60" fill="#ee7a30" fill-opacity="0.85"/>
<rect x="230.90" y="181.60" width="1.2" height="4.00" fill="#ee7a30" fill-opacity="0.85"/>
<rect x="237.60" y="178.90" width="1.2" height="1.40" fill="#3ad3b6" fill-opacity="0.85"/>
<rect x="239.90" y="179.40" width="1.2" height="3.00" fill="#a32a2e" fill-opacity="0.85"/>
<rect x="246.70" y="179.70" width="1.2" height="1.40" fill="#2b9a68" fill-opacity="0.85"/>
<rect x="249.00" y="181.90" width="1.2" height="1.60" fill="#ee7a30" fill-opacity="0.85"/>
<rect x="256.30" y="177.40" width="1.2" height="1.60" fill="#2b9a68" fill-opacity="0.85"/>
<rect x="258.90" y="180.10" width="1.2" height="1.60" fill="#a32a2e" fill-opacity="0.85"/>
<rect x="267.90" y="179.60" width="1.2" height="1.60" fill="#ad8b40" fill-opacity="0.85"/>
<rect x="278.10" y="177.60" width="1.2" height="3.00" fill="#a32a2e" fill-opacity="0.85"/>
<rect x="293.90" y="174.00" width="1.2" height="3.00" fill="#2b9a68" fill-opacity="0.85"/>
<rect x="296.70" y="181.20" width="1.2" height="3.00" fill="#ee7a30" fill-opacity="0.85"/>
<rect x="313.15" y="134.50" width="1.2" height="4.00" fill="#2b9a68" fill-opacity="0.85"/>
<rect x="321.90" y="131.65" width="1.2" height="3.20" fill="#ad8b40" fill-opacity="0.85"/>
<rect x="331.40" y="128.20" width="1.2" height="1.60" fill="#2b9a68" fill-opacity="0.85"/>
<rect x="333.90" y="131.20" width="1.2" height="1.60" fill="#a32a2e" fill-opacity="0.85"/>
<rect x="341.40" y="129.15" width="1.2" height="3.20" fill="#3ad3b6" fill-opacity="0.85"/>
<rect x="350.65" y="117.40" width="1.2" height="3.20" fill="#2b9a68" fill-opacity="0.85"/>
<rect x="353.15" y="126.65" width="1.2" height="3.20" fill="#ad8b40" fill-opacity="0.85"/>
<rect x="343.90" y="133.50" width="1.2" height="6.00" fill="#33a9e2" fill-opacity="0.85"/>
<rect x="334.40" y="144.75" width="1.2" height="2.00" fill="#3ad3b6" fill-opacity="0.85"/>
<rect x="334.40" y="150.40" width="1.2" height="3.20" fill="#33a9e2" fill-opacity="0.85"/>
<rect x="343.90" y="146.65" width="1.2" height="3.20" fill="#ee7a30" fill-opacity="0.85"/>
<rect x="334.40" y="157.45" width="1.2" height="1.60" fill="#ee7a30" fill-opacity="0.85"/>
<rect x="361.90" y="131.65" width="1.2" height="3.20" fill="#ee7a30" fill-opacity="0.85"/>
<rect x="353.15" y="134.15" width="1.2" height="3.20" fill="#33a9e2" fill-opacity="0.85"/>
<rect x="303.90" y="160.40" width="1.2" height="3.20" fill="#2b9a68" fill-opacity="0.85"/>
<rect x="304.90" y="164.95" width="1.2" height="1.60" fill="#ee7a30" fill-opacity="0.85"/>
<rect x="305.65" y="171.20" width="1.2" height="1.60" fill="#a32a2e" fill-opacity="0.85"/>
<rect x="294.40" y="174.95" width="1.2" height="1.60" fill="#3ad3b6" fill-opacity="0.85"/>
<rect x="296.40" y="181.75" width="1.2" height="3.00" fill="#ee7a30" fill-opacity="0.85"/>
<rect x="306.40" y="184.95" width="1.2" height="1.60" fill="#ee7a30" fill-opacity="0.85"/>
<rect x="315.65" y="181.20" width="1.2" height="1.60" fill="#ee7a30" fill-opacity="0.85"/>
<line x1="223.8" y1="116.7" x2="281" y2="116.7" stroke="#6a6a6a" stroke-width="1.0"/>
<line x1="223.8" y1="123.7" x2="281" y2="123.7" stroke="#6a6a6a" stroke-width="1.0"/>
<line x1="223.8" y1="168.3" x2="281" y2="168.3" stroke="#9a9a9a" stroke-width="1.3"/>
<line x1="250.4" y1="116.7" x2="250.4" y2="168.3" stroke="#555" stroke-width="0.9"/>
<text x="236.2" y="122.54" font-size="6.5" text-anchor="middle" fill="#1e1e1e" stroke="#1e1e1e" stroke-width="0.1" >DNA</text>
<text x="266.6" y="122.54" font-size="6.5" text-anchor="middle" fill="#1e1e1e" stroke="#1e1e1e" stroke-width="0.1">K<tspan font-size="4.42" dy="0.9">D</tspan><tspan dy="-0.9"> (µM)</tspan></text>
<text x="236.2" y="130.84" font-size="6.5" text-anchor="middle" fill="#2b9a68" stroke="#2b9a68" stroke-width="0.12" >dsDNA1</text>
<text x="266.6" y="130.84" font-size="6.5" text-anchor="middle" fill="#2b9a68" stroke="#2b9a68" stroke-width="0.12" >1.5 ± 0.4</text>
<text x="236.2" y="138.34" font-size="6.5" text-anchor="middle" fill="#a32a2e" stroke="#a32a2e" stroke-width="0.12" >Bubble3</text>
<text x="266.6" y="138.34" font-size="6.5" text-anchor="middle" fill="#a32a2e" stroke="#a32a2e" stroke-width="0.12" >4.7 ± 0.9</text>
<text x="236.2" y="145.34" font-size="6.5" text-anchor="middle" fill="#33a9e2" stroke="#33a9e2" stroke-width="0.12" >Bubble6</text>
<text x="266.6" y="145.34" font-size="6.5" text-anchor="middle" fill="#33a9e2" stroke="#33a9e2" stroke-width="0.12" >11.8 ± 2.1</text>
<text x="236.2" y="152.84" font-size="6.5" text-anchor="middle" fill="#ee7a30" stroke="#ee7a30" stroke-width="0.12" >Bubble9</text>
<text x="266.6" y="152.84" font-size="6.5" text-anchor="middle" fill="#ee7a30" stroke="#ee7a30" stroke-width="0.12" >18.1 ± 4.5</text>
<text x="236.2" y="159.74" font-size="6.5" text-anchor="middle" fill="#ad8b40" stroke="#ad8b40" stroke-width="0.12" >Bulge3</text>
<text x="266.6" y="159.74" font-size="6.5" text-anchor="middle" fill="#ad8b40" stroke="#ad8b40" stroke-width="0.12" >2.5 ± 0.5</text>
<text x="236.2" y="166.84" font-size="6.5" text-anchor="middle" fill="#3ad3b6" stroke="#3ad3b6" stroke-width="0.12" >Bulge6</text>
<text x="266.6" y="166.84" font-size="6.5" text-anchor="middle" fill="#3ad3b6" stroke="#3ad3b6" stroke-width="0.12" >8.8 ± 1.6</text>
<rect x="428.3" y="153" width="115.7" height="50.6" fill="#f5f5f5" />
<text x="377.35" y="115.6" font-size="15.2" text-anchor="start" fill="#1e1e1e" stroke="#1e1e1e" stroke-width="0.22" >F</text>
<text x="480.4" y="118.1" font-size="8.5" fill="#1e1e1e" stroke="#1e1e1e" stroke-width="0.22">MPND<tspan font-size="5.01" dx="0.5" dy="2.20" stroke-width="0.12">2-160</tspan></text>
<line x1="453" y1="122.6" x2="537" y2="122.6" stroke="#5a5a5a" stroke-width="1.0"/>
<text x="397" y="145.2" font-size="7.6" text-anchor="start" fill="#1e1e1e" stroke="#1e1e1e" stroke-width="0.22" >DNA</text>
<text x="434.2" y="149.8" font-size="6.1" fill="#1e1e1e" stroke="#1e1e1e" stroke-width="0.3" transform="rotate(-49 434.2 149.8)">Control</text>
<text x="450.3" y="149.8" font-size="6.1" fill="#1e1e1e" stroke="#1e1e1e" stroke-width="0.3" transform="rotate(-49 450.3 149.8)">dsDNA2</text>
<text x="468.5" y="149.8" font-size="6.1" fill="#1e1e1e" stroke="#1e1e1e" stroke-width="0.3" transform="rotate(-49 468.5 149.8)">dsDNA1</text>
<text x="486.6" y="149.8" font-size="6.1" fill="#1e1e1e" stroke="#1e1e1e" stroke-width="0.3" transform="rotate(-49 486.6 149.8)">dsDNA3</text>
<text x="503.4" y="149.8" font-size="6.1" fill="#1e1e1e" stroke="#1e1e1e" stroke-width="0.3" transform="rotate(-49 503.4 149.8)">dsDNA4</text>
<text x="523.1" y="149.8" font-size="6.1" fill="#1e1e1e" stroke="#1e1e1e" stroke-width="0.3" transform="rotate(-49 523.1 149.8)">dsDNA5</text>
<text x="509.0" y="149.4" font-size="6.1" fill="#e63a3e" stroke="#e63a3e" stroke-width="0.3" transform="rotate(-49 509.0 149.4)">(6mA)</text>
<text x="387.4" y="168.2" font-size="7.8" fill="#1e1e1e" stroke="#1e1e1e" stroke-width="0.22">Complex</text>
<text x="416.26" y="168.2" font-size="7.8" fill="#1e1e1e" stroke="#1e1e1e" stroke-width="0.12" textLength="12.33" lengthAdjust="spacingAndGlyphs">→</text>
<text x="384.8" y="188.6" font-size="7.8" fill="#1e1e1e" stroke="#1e1e1e" stroke-width="0.22">Free DNA</text>
<text x="417.56" y="188.6" font-size="7.8" fill="#1e1e1e" stroke="#1e1e1e" stroke-width="0.12" textLength="12.33" lengthAdjust="spacingAndGlyphs">→</text>
<linearGradient id="sg16" x1="0" y1="0" x2="0" y2="1"><stop offset="0" stop-color="#000" stop-opacity="0.08"/><stop offset="1" stop-color="#000" stop-opacity="0.12"/></linearGradient>
<rect x="449.3" y="167" width="12.80" height="19.00" fill="url(#sg16)" filter="url(#b2)"/>
<linearGradient id="sg17" x1="0" y1="0" x2="0" y2="1"><stop offset="0" stop-color="#000" stop-opacity="0.05"/><stop offset="1" stop-color="#000" stop-opacity="0.07"/></linearGradient>
<rect x="467.40000000000003" y="167" width="12.80" height="19.00" fill="url(#sg17)" filter="url(#b2)"/>
<linearGradient id="sg18" x1="0" y1="0" x2="0" y2="1"><stop offset="0" stop-color="#000" stop-opacity="0.04"/><stop offset="1" stop-color="#000" stop-opacity="0.05"/></linearGradient>
<rect x="485.70000000000005" y="167" width="12.80" height="19.00" fill="url(#sg18)" filter="url(#b2)"/>
<linearGradient id="sg19" x1="0" y1="0" x2="0" y2="1"><stop offset="0" stop-color="#000" stop-opacity="0.04"/><stop offset="1" stop-color="#000" stop-opacity="0.06"/></linearGradient>
<rect x="503.6" y="167" width="12.80" height="19.00" fill="url(#sg19)" filter="url(#b2)"/>
<linearGradient id="sg20" x1="0" y1="0" x2="0" y2="1"><stop offset="0" stop-color="#000" stop-opacity="0.1"/><stop offset="1" stop-color="#000" stop-opacity="0.16"/></linearGradient>
<rect x="521.7" y="167" width="12.80" height="19.00" fill="url(#sg20)" filter="url(#b2)"/>
<linearGradient id="sg21" x1="0" y1="0" x2="0" y2="1"><stop offset="0" stop-color="#000" stop-opacity="0.02"/><stop offset="1" stop-color="#000" stop-opacity="0.3"/></linearGradient>
<rect x="521.5" y="157.5" width="13.20" height="5.50" fill="url(#sg21)" filter="url(#b2)"/>
<path d="M431.10,186.60 L431.10,183.20 C432.85,183.20 432.85,184.40 434.60,184.40 C436.35,184.40 436.35,183.62 438.10,183.62 C439.85,183.62 439.85,184.40 441.60,184.40 C443.35,184.40 443.35,183.20 445.10,183.20 L445.10,186.60 Q445.10,188.20 443.50,188.20 L432.70,188.20 Q431.10,188.20 431.10,186.60 Z" fill="#000" fill-opacity="1.0" filter="url(#b1)"/>
<path d="M448.90,165.30 L448.90,161.80 C450.60,161.80 450.60,163.10 452.30,163.10 C454.00,163.10 454.00,162.26 455.70,162.26 C457.40,162.26 457.40,163.10 459.10,163.10 C460.80,163.10 460.80,161.80 462.50,161.80 L462.50,165.30 Q462.50,166.90 460.90,166.90 L450.50,166.90 Q448.90,166.90 448.90,165.30 Z" fill="#000" fill-opacity="1.0" filter="url(#b1)"/>
<rect x="449.2" y="183.3" width="13.00" height="3.30" rx="1.3" fill="#000" fill-opacity="0.62" filter="url(#b1)"/>
<path d="M467.00,165.30 L467.00,161.80 C468.70,161.80 468.70,163.10 470.40,163.10 C472.10,163.10 472.10,162.26 473.80,162.26 C475.50,162.26 475.50,163.10 477.20,163.10 C478.90,163.10 478.90,161.80 480.60,161.80 L480.60,165.30 Q480.60,166.90 479.00,166.90 L468.60,166.90 Q467.00,166.90 467.00,165.30 Z" fill="#000" fill-opacity="1.0" filter="url(#b1)"/>
<rect x="467.3" y="183.3" width="13.00" height="3.30" rx="1.3" fill="#000" fill-opacity="0.1" filter="url(#b1)"/>
<path d="M485.30,165.30 L485.30,161.80 C487.00,161.80 487.00,163.10 488.70,163.10 C490.40,163.10 490.40,162.26 492.10,162.26 C493.80,162.26 493.80,163.10 495.50,163.10 C497.20,163.10 497.20,161.80 498.90,161.80 L498.90,165.30 Q498.90,166.90 497.30,166.90 L486.90,166.90 Q485.30,166.90 485.30,165.30 Z" fill="#000" fill-opacity="1.0" filter="url(#b1)"/>
<rect x="485.6" y="183.3" width="13.00" height="3.30" rx="1.3" fill="#000" fill-opacity="0.05" filter="url(#b1)"/>
<path d="M503.20,165.30 L503.20,161.80 C504.90,161.80 504.90,163.10 506.60,163.10 C508.30,163.10 508.30,162.26 510.00,162.26 C511.70,162.26 511.70,163.10 513.40,163.10 C515.10,163.10 515.10,161.80 516.80,161.80 L516.80,165.30 Q516.80,166.90 515.20,166.90 L504.80,166.90 Q503.20,166.90 503.20,165.30 Z" fill="#000" fill-opacity="1.0" filter="url(#b1)"/>
<rect x="503.5" y="183.3" width="13.00" height="3.30" rx="1.3" fill="#000" fill-opacity="0.07" filter="url(#b1)"/>
<path d="M521.30,165.30 L521.30,161.80 C523.00,161.80 523.00,163.10 524.70,163.10 C526.40,163.10 526.40,162.26 528.10,162.26 C529.80,162.26 529.80,163.10 531.50,163.10 C533.20,163.10 533.20,161.80 534.90,161.80 L534.90,165.30 Q534.90,166.90 533.30,166.90 L522.90,166.90 Q521.30,166.90 521.30,165.30 Z" fill="#000" fill-opacity="1.0" filter="url(#b1)"/>
<rect x="521.6" y="183.3" width="13.00" height="4.30" rx="1.3" fill="#000" fill-opacity="1" filter="url(#b1)"/>
<text x="4.83" y="214.85" font-size="15.2" text-anchor="start" fill="#1e1e1e" stroke="#1e1e1e" stroke-width="0.22" >G</text>
<line x1="34.4" y1="221.2" x2="34.4" y2="298.5" stroke="#262626" stroke-width="1.1"/>
<line x1="33.85" y1="297.9" x2="174.15" y2="297.9" stroke="#262626" stroke-width="1.2"/>
<line x1="32.199999999999996" y1="226.73999999999995" x2="34.4" y2="226.73999999999995" stroke="#262626" stroke-width="0.8"/>
<text x="30.0" y="228.48999999999995" font-size="5.25" text-anchor="end" fill="#2c2c2c" stroke="#2c2c2c" stroke-width="0.12" >1.1</text>
<line x1="32.199999999999996" y1="238.59999999999997" x2="34.4" y2="238.59999999999997" stroke="#262626" stroke-width="0.8"/>
<text x="30.0" y="240.34999999999997" font-size="5.25" text-anchor="end" fill="#2c2c2c" stroke="#2c2c2c" stroke-width="0.12" >0.9</text>
<line x1="32.199999999999996" y1="250.45999999999998" x2="34.4" y2="250.45999999999998" stroke="#262626" stroke-width="0.8"/>
<text x="30.0" y="252.20999999999998" font-size="5.25" text-anchor="end" fill="#2c2c2c" stroke="#2c2c2c" stroke-width="0.12" >0.7</text>
<line x1="32.199999999999996" y1="262.32" x2="34.4" y2="262.32" stroke="#262626" stroke-width="0.8"/>
<text x="30.0" y="264.07" font-size="5.25" text-anchor="end" fill="#2c2c2c" stroke="#2c2c2c" stroke-width="0.12" >0.5</text>
<line x1="32.199999999999996" y1="274.17999999999995" x2="34.4" y2="274.17999999999995" stroke="#262626" stroke-width="0.8"/>
<text x="30.0" y="275.92999999999995" font-size="5.25" text-anchor="end" fill="#2c2c2c" stroke="#2c2c2c" stroke-width="0.12" >0.3</text>
<line x1="32.199999999999996" y1="286.03999999999996" x2="34.4" y2="286.03999999999996" stroke="#262626" stroke-width="0.8"/>
<text x="30.0" y="287.78999999999996" font-size="5.25" text-anchor="end" fill="#2c2c2c" stroke="#2c2c2c" stroke-width="0.12" >0.1</text>
<line x1="32.199999999999996" y1="297.9" x2="34.4" y2="297.9" stroke="#262626" stroke-width="0.8"/>
<text x="30.0" y="299.65" font-size="5.25" text-anchor="end" fill="#2c2c2c" stroke="#2c2c2c" stroke-width="0.12" >-0.1</text>
<line x1="34.4" y1="297.9" x2="34.4" y2="299.9" stroke="#262626" stroke-width="0.8"/>
<text x="34.4" y="306.09999999999997" font-size="5.25" text-anchor="middle" fill="#2c2c2c" stroke="#2c2c2c" stroke-width="0.12" >0.001</text>
<line x1="62.349999999999994" y1="297.9" x2="62.349999999999994" y2="299.9" stroke="#262626" stroke-width="0.8"/>
<text x="62.349999999999994" y="306.09999999999997" font-size="5.25" text-anchor="middle" fill="#2c2c2c" stroke="#2c2c2c" stroke-width="0.12" >0.01</text>
<line x1="90.3" y1="297.9" x2="90.3" y2="299.9" stroke="#262626" stroke-width="0.8"/>
<text x="90.3" y="306.09999999999997" font-size="5.25" text-anchor="middle" fill="#2c2c2c" stroke="#2c2c2c" stroke-width="0.12" >0.1</text>
<line x1="118.25" y1="297.9" x2="118.25" y2="299.9" stroke="#262626" stroke-width="0.8"/>
<text x="118.25" y="306.09999999999997" font-size="5.25" text-anchor="middle" fill="#2c2c2c" stroke="#2c2c2c" stroke-width="0.12" >1</text>
<line x1="146.2" y1="297.9" x2="146.2" y2="299.9" stroke="#262626" stroke-width="0.8"/>
<text x="146.2" y="306.09999999999997" font-size="5.25" text-anchor="middle" fill="#2c2c2c" stroke="#2c2c2c" stroke-width="0.12" >10</text>
<line x1="174.15" y1="297.9" x2="174.15" y2="299.9" stroke="#262626" stroke-width="0.8"/>
<text x="174.15" y="306.09999999999997" font-size="5.25" text-anchor="middle" fill="#2c2c2c" stroke="#2c2c2c" stroke-width="0.12" >100</text>
<text x="101.5" y="313.5" font-size="7.2" text-anchor="middle" fill="#1e1e1e" stroke="#1e1e1e" stroke-width="0.22" >MPND Concentration (µM)</text>
<text x="21.2" y="264.6" font-size="7.6" text-anchor="middle" fill="#1e1e1e" stroke="#1e1e1e" stroke-width="0.15" transform="rotate(-90 21.2 264.6)">Fraction Bound</text>
<polyline points="42.81,291.85 44.39,291.84 45.97,291.82 47.55,291.80 49.13,291.77 50.71,291.74 52.29,291.71 53.86,291.68 55.44,291.64 57.02,291.59 58.60,291.54 60.18,291.48 61.76,291.41 63.34,291.33 64.91,291.25 66.49,291.15 68.07,291.03 69.65,290.91 71.23,290.76 72.81,290.60 74.39,290.41 75.97,290.20 77.54,289.97 79.12,289.70 80.70,289.40 82.28,289.06 83.86,288.68 85.44,288.25 87.02,287.77 88.59,287.23 90.17,286.63 91.75,285.96 93.33,285.22 94.91,284.41 96.49,283.51 98.07,282.52 99.65,281.44 101.22,280.26 102.80,278.99 104.38,277.63 105.96,276.17 107.54,274.61 109.12,272.98 110.70,271.26 112.27,269.47 113.85,267.63 115.43,265.75 117.01,263.83 118.59,261.91 120.17,259.98 121.75,258.08 123.33,256.21 124.90,254.39 126.48,252.63 128.06,250.95 129.64,249.35 131.22,247.83 132.80,246.41 134.38,245.09 135.95,243.86 137.53,242.73 139.11,241.69 140.69,240.74 142.27,239.87 143.85,239.09 145.43,238.38 147.01,237.74 148.58,237.17 150.16,236.66 151.74,236.20 153.32,235.79 154.90,235.43 156.48,235.11 158.06,234.82 159.63,234.57 161.21,234.34 162.79,234.14 164.37,233.97 165.95,233.81 167.53,233.68 169.11,233.56" fill="none" stroke="#2b9a68" stroke-width="1.35" stroke-linecap="round"/>
<polyline points="42.81,291.89 44.39,291.87 45.97,291.86 47.55,291.85 49.13,291.83 50.71,291.81 52.29,291.79 53.86,291.76 55.44,291.73 57.02,291.70 58.60,291.66 60.18,291.62 61.76,291.57 63.34,291.51 64.91,291.45 66.49,291.38 68.07,291.30 69.65,291.21 71.23,291.10 72.81,290.98 74.39,290.85 75.97,290.70 77.54,290.53 79.12,290.33 80.70,290.11 82.28,289.86 83.86,289.58 85.44,289.26 87.02,288.91 88.59,288.50 90.17,288.05 91.75,287.55 93.33,286.99 94.91,286.36 96.49,285.67 98.07,284.90 99.65,284.05 101.22,283.11 102.80,282.08 104.38,280.97 105.96,279.75 107.54,278.44 109.12,277.04 110.70,275.54 112.27,273.95 113.85,272.28 115.43,270.53 117.01,268.72 118.59,266.86 120.17,264.96 121.75,263.04 123.33,261.11 124.90,259.19 126.48,257.30 128.06,255.45 129.64,253.66 131.22,251.93 132.80,250.28 134.38,248.71 135.95,247.24 137.53,245.85 139.11,244.57 140.69,243.38 142.27,242.29 143.85,241.28 145.43,240.37 147.01,239.54 148.58,238.79 150.16,238.11 151.74,237.50 153.32,236.95 154.90,236.47 156.48,236.03 158.06,235.64 159.63,235.29 161.21,234.99 162.79,234.71 164.37,234.47 165.95,234.26 167.53,234.07 169.11,233.90" fill="none" stroke="#a32a2e" stroke-width="1.35" stroke-linecap="round"/>
<polyline points="42.81,291.89 44.39,291.88 45.97,291.87 47.55,291.85 49.13,291.84 50.71,291.82 52.29,291.80 53.86,291.77 55.44,291.75 57.02,291.72 58.60,291.68 60.18,291.64 61.76,291.60 63.34,291.54 64.91,291.49 66.49,291.42 68.07,291.34 69.65,291.26 71.23,291.16 72.81,291.05 74.39,290.92 75.97,290.78 77.54,290.62 79.12,290.44 80.70,290.23 82.28,290.00 83.86,289.73 85.44,289.43 87.02,289.10 88.59,288.72 90.17,288.30 91.75,287.83 93.33,287.30 94.91,286.70 96.49,286.05 98.07,285.32 99.65,284.51 101.22,283.62 102.80,282.64 104.38,281.57 105.96,280.41 107.54,279.15 109.12,277.79 110.70,276.34 112.27,274.80 113.85,273.17 115.43,271.46 117.01,269.69 118.59,267.85 120.17,265.97 121.75,264.06 123.33,262.13 124.90,260.21 126.48,258.30 128.06,256.43 129.64,254.60 131.22,252.84 132.80,251.14 134.38,249.53 135.95,248.01 137.53,246.58 139.11,245.24 140.69,244.00 142.27,242.85 143.85,241.80 145.43,240.84 147.01,239.97 148.58,239.18 150.16,238.46 151.74,237.82 153.32,237.24 154.90,236.72 156.48,236.25 158.06,235.84 159.63,235.47 161.21,235.14 162.79,234.85 164.37,234.60 165.95,234.37 167.53,234.17 169.11,233.99" fill="none" stroke="#d5a088" stroke-width="1.35" stroke-linecap="round"/>
<polyline points="42.81,291.93 44.39,291.93 45.97,291.92 47.55,291.91 49.13,291.90 50.71,291.89 52.29,291.88 53.86,291.87 55.44,291.86 57.02,291.84 58.60,291.83 60.18,291.81 61.76,291.78 63.34,291.76 64.91,291.73 66.49,291.69 68.07,291.65 69.65,291.61 71.23,291.56 72.81,291.51 74.39,291.44 75.97,291.37 77.54,291.29 79.12,291.19 80.70,291.09 82.28,290.97 83.86,290.83 85.44,290.67 87.02,290.50 88.59,290.30 90.17,290.08 91.75,289.82 93.33,289.54 94.91,289.21 96.49,288.85 98.07,288.44 99.65,287.99 101.22,287.48 102.80,286.91 104.38,286.27 105.96,285.56 107.54,284.78 109.12,283.92 110.70,282.97 112.27,281.93 113.85,280.80 115.43,279.57 117.01,278.25 118.59,276.83 120.17,275.32 121.75,273.72 123.33,272.04 124.90,270.28 126.48,268.46 128.06,266.59 129.64,264.69 131.22,262.77 132.80,260.84 134.38,258.93 135.95,257.04 137.53,255.20 139.11,253.41 140.69,251.69 142.27,250.05 143.85,248.50 145.43,247.04 147.01,245.67 148.58,244.40 150.16,243.22 151.74,242.14 153.32,241.15 154.90,240.25 156.48,239.43 158.06,238.69 159.63,238.02 161.21,237.42 162.79,236.88 164.37,236.40 165.95,235.97 167.53,235.59 169.11,235.25" fill="none" stroke="#33a9e2" stroke-width="1.35" stroke-linecap="round"/>
<polyline points="42.81,291.95 44.39,291.95 45.97,291.94 47.55,291.94 49.13,291.94 50.71,291.93 52.29,291.93 53.86,291.92 55.44,291.91 57.02,291.91 58.60,291.90 60.18,291.89 61.76,291.88 63.34,291.86 64.91,291.85 66.49,291.83 68.07,291.81 69.65,291.79 71.23,291.77 72.81,291.74 74.39,291.70 75.97,291.67 77.54,291.63 79.12,291.58 80.70,291.53 82.28,291.46 83.86,291.39 85.44,291.32 87.02,291.23 88.59,291.12 90.17,291.01 91.75,290.88 93.33,290.73 94.91,290.56 96.49,290.37 98.07,290.15 99.65,289.91 101.22,289.63 102.80,289.33 104.38,288.98 105.96,288.58 107.54,288.14 109.12,287.65 110.70,287.10 112.27,286.49 113.85,285.81 115.43,285.05 117.01,284.21 118.59,283.29 120.17,282.29 121.75,281.18 123.33,279.99 124.90,278.70 126.48,277.31 128.06,275.83 129.64,274.26 131.22,272.60 132.80,270.87 134.38,269.07 135.95,267.21 137.53,265.32 139.11,263.40 140.69,261.48 142.27,259.56 143.85,257.66 145.43,255.80 147.01,253.99 148.58,252.25 150.16,250.59 151.74,249.00 153.32,247.51 154.90,246.11 156.48,244.81 158.06,243.60 159.63,242.49 161.21,241.47 162.79,240.54 164.37,239.69 165.95,238.92 167.53,238.23 169.11,237.61" fill="none" stroke="#ee7a30" stroke-width="1.35" stroke-linecap="round"/>
<rect x="126.90" y="239.50" width="1.2" height="5.00" fill="#2b9a68" fill-opacity="0.85"/>
<rect x="135.65" y="235.00" width="1.2" height="5.00" fill="#2b9a68" fill-opacity="0.85"/>
<rect x="143.90" y="232.00" width="1.2" height="6.00" fill="#2b9a68" fill-opacity="0.85"/>
<rect x="151.90" y="234.75" width="1.2" height="3.00" fill="#2b9a68" fill-opacity="0.85"/>
<rect x="160.65" y="233.50" width="1.2" height="3.00" fill="#2b9a68" fill-opacity="0.85"/>
<rect x="169.90" y="238.50" width="1.2" height="4.00" fill="#2b9a68" fill-opacity="0.85"/>
<rect x="126.90" y="248.00" width="1.2" height="4.00" fill="#a32a2e" fill-opacity="0.85"/>
<rect x="135.65" y="244.75" width="1.2" height="3.00" fill="#d5a088" fill-opacity="0.85"/>
<rect x="143.90" y="238.50" width="1.2" height="3.00" fill="#a32a2e" fill-opacity="0.85"/>
<rect x="152.40" y="234.00" width="1.2" height="3.00" fill="#d5a088" fill-opacity="0.85"/>
<rect x="160.65" y="236.50" width="1.2" height="3.00" fill="#a32a2e" fill-opacity="0.85"/>
<rect x="169.40" y="241.00" width="1.2" height="3.00" fill="#d5a088" fill-opacity="0.85"/>
<rect x="118.15" y="266.70" width="1.2" height="1.60" fill="#33a9e2" fill-opacity="0.85"/>
<rect x="126.90" y="265.45" width="1.2" height="1.60" fill="#33a9e2" fill-opacity="0.85"/>
<rect x="135.65" y="254.75" width="1.2" height="3.00" fill="#33a9e2" fill-opacity="0.85"/>
<rect x="143.90" y="248.50" width="1.2" height="3.00" fill="#33a9e2" fill-opacity="0.85"/>
<rect x="152.40" y="242.55" width="1.2" height="2.40" fill="#33a9e2" fill-opacity="0.85"/>
<rect x="160.65" y="237.55" width="1.2" height="2.40" fill="#33a9e2" fill-opacity="0.85"/>
<rect x="118.15" y="270.45" width="1.2" height="1.60" fill="#ee7a30" fill-opacity="0.85"/>
<rect x="126.90" y="274.20" width="1.2" height="1.60" fill="#ee7a30" fill-opacity="0.85"/>
<rect x="135.65" y="263.80" width="1.2" height="2.40" fill="#ee7a30" fill-opacity="0.85"/>
<rect x="143.90" y="255.05" width="1.2" height="2.40" fill="#ee7a30" fill-opacity="0.85"/>
<rect x="152.40" y="248.80" width="1.2" height="2.40" fill="#ee7a30" fill-opacity="0.85"/>
<rect x="118.90" y="260.25" width="1.2" height="2.00" fill="#2b9a68" fill-opacity="0.85"/>
<rect x="109.90" y="284.20" width="1.2" height="1.60" fill="#2b9a68" fill-opacity="0.85"/>
<rect x="109.90" y="287.95" width="1.2" height="1.60" fill="#d5a088" fill-opacity="0.85"/>
<rect x="118.90" y="286.70" width="1.2" height="1.60" fill="#ee7a30" fill-opacity="0.85"/>
<rect x="42.40" y="289.70" width="1.2" height="1.40" fill="#ee7a30" fill-opacity="0.85"/>
<rect x="42.40" y="293.90" width="1.2" height="4.00" fill="#d5a088" fill-opacity="0.85"/>
<rect x="51.10" y="289.70" width="1.2" height="1.40" fill="#a32a2e" fill-opacity="0.85"/>
<rect x="59.10" y="287.20" width="1.2" height="4.00" fill="#d5a088" fill-opacity="0.85"/>
<rect x="67.90" y="286.70" width="1.2" height="3.00" fill="#2b9a68" fill-opacity="0.85"/>
<rect x="76.60" y="285.50" width="1.2" height="4.00" fill="#d5a088" fill-opacity="0.85"/>
<rect x="84.60" y="287.90" width="1.2" height="1.40" fill="#a32a2e" fill-opacity="0.85"/>
<rect x="93.30" y="287.60" width="1.2" height="2.60" fill="#33a9e2" fill-opacity="0.85"/>
<rect x="101.60" y="287.30" width="1.2" height="2.60" fill="#33a9e2" fill-opacity="0.85"/>
<rect x="110.00" y="286.90" width="1.2" height="2.60" fill="#33a9e2" fill-opacity="0.85"/>
<rect x="110.00" y="290.40" width="1.2" height="1.40" fill="#ee7a30" fill-opacity="0.85"/>
<line x1="45.8" y1="223.9" x2="99.1" y2="223.9" stroke="#6a6a6a" stroke-width="1.0"/>
<line x1="45.8" y1="234.2" x2="99.1" y2="234.2" stroke="#6a6a6a" stroke-width="1.0"/>
<line x1="45.8" y1="277.8" x2="99.1" y2="277.8" stroke="#9a9a9a" stroke-width="1.3"/>
<line x1="72" y1="223.9" x2="72" y2="277.8" stroke="#555" stroke-width="0.9"/>
<text x="58.4" y="231.318" font-size="6.3" text-anchor="middle" fill="#1e1e1e" stroke="#1e1e1e" stroke-width="0.1" >DNA</text>
<text x="87.2" y="231.318" font-size="6.3" text-anchor="middle" fill="#1e1e1e" stroke="#1e1e1e" stroke-width="0.1">K<tspan font-size="4.284" dy="0.9">D</tspan><tspan dy="-0.9"> (µM)</tspan></text>
<text x="58.4" y="240.668" font-size="6.3" text-anchor="middle" fill="#d5a088" stroke="#d5a088" stroke-width="0.12" >dsDNA1</text>
<text x="87.2" y="240.668" font-size="6.3" text-anchor="middle" fill="#d5a088" stroke="#d5a088" stroke-width="0.12" >1.5 ± 0.4</text>
<text x="58.4" y="247.468" font-size="6.3" text-anchor="middle" fill="#33a9e2" stroke="#33a9e2" stroke-width="0.12" >dsDNA2</text>
<text x="87.2" y="247.468" font-size="6.3" text-anchor="middle" fill="#33a9e2" stroke="#33a9e2" stroke-width="0.12" >3.0 ± 0.4</text>
<text x="58.4" y="254.268" font-size="6.3" text-anchor="middle" fill="#2b9a68" stroke="#2b9a68" stroke-width="0.12" >dsDNA3</text>
<text x="87.2" y="254.268" font-size="6.3" text-anchor="middle" fill="#2b9a68" stroke="#2b9a68" stroke-width="0.12" >1.0 ± 0.3</text>
<text x="58.4" y="261.568" font-size="6.3" text-anchor="middle" fill="#a32a2e" stroke="#a32a2e" stroke-width="0.12" >dsDNA4</text>
<text x="87.2" y="261.568" font-size="6.3" text-anchor="middle" fill="#a32a2e" stroke="#a32a2e" stroke-width="0.12" >1.4 ± 0.4</text>
<text x="58.4" y="268.768" font-size="6.3" text-anchor="middle" fill="#a32a2e" stroke="#a32a2e" stroke-width="0.12" >(6mA)</text>
<text x="58.4" y="275.96799999999996" font-size="6.3" text-anchor="middle" fill="#ee7a30" stroke="#ee7a30" stroke-width="0.12" >dsDNA5</text>
<text x="87.2" y="275.96799999999996" font-size="6.3" text-anchor="middle" fill="#ee7a30" stroke="#ee7a30" stroke-width="0.12" >6.0 ± 1.5</text>
<rect x="249.5" y="255.5" width="74" height="55.5" fill="#f3f3f3" filter="url(#b05)"/>
<text x="193.0" y="225.0" font-size="15.2" text-anchor="start" fill="#1e1e1e" stroke="#1e1e1e" stroke-width="0.22" >H</text>
<text x="301.2" y="229.7" font-size="8.6" text-anchor="middle" fill="#1e1e1e" stroke="#1e1e1e" stroke-width="0.22" >MPND</text>
<line x1="272.9" y1="231.6" x2="322.1" y2="231.6" stroke="#5a5a5a" stroke-width="1.0"/>
<text x="276.6" y="248.4" font-size="6.0" fill="#1e1e1e" stroke="#1e1e1e" stroke-width="0.3" transform="rotate(-47 276.6 248.4)">2-160</text>
<text x="294.6" y="248.4" font-size="6.0" fill="#1e1e1e" stroke="#1e1e1e" stroke-width="0.3" transform="rotate(-47 294.6 248.4)">32-192</text>
<text x="311.2" y="248.4" font-size="6.0" fill="#1e1e1e" stroke="#1e1e1e" stroke-width="0.3" transform="rotate(-47 311.2 248.4)">2-192</text>
<text x="215.4" y="256.6" font-size="7.6" text-anchor="start" fill="#1e1e1e" stroke="#1e1e1e" stroke-width="0.22" >DNA</text>
<text x="258.8" y="256.2" font-size="6.5" text-anchor="middle" fill="#6a6a6a" stroke="#6a6a6a" stroke-width="0.05" >+</text>
<text x="277.5" y="256.2" font-size="6.5" text-anchor="middle" fill="#6a6a6a" stroke="#6a6a6a" stroke-width="0.05" >+</text>
<text x="295.5" y="256.2" font-size="6.5" text-anchor="middle" fill="#6a6a6a" stroke="#6a6a6a" stroke-width="0.05" >+</text>
<text x="315.6" y="256.2" font-size="6.5" text-anchor="middle" fill="#6a6a6a" stroke="#6a6a6a" stroke-width="0.05" >+</text>
<text x="205.2" y="273.3" font-size="8.1" fill="#1e1e1e" stroke="#1e1e1e" stroke-width="0.22">Complex</text>
<text x="235.24" y="273.3" font-size="8.1" fill="#1e1e1e" stroke="#1e1e1e" stroke-width="0.12" textLength="12.33" lengthAdjust="spacingAndGlyphs">→</text>
<text x="203.5" y="292.6" font-size="8.1" fill="#1e1e1e" stroke="#1e1e1e" stroke-width="0.22">Free DNA</text>
<text x="237.59" y="292.6" font-size="8.1" fill="#1e1e1e" stroke="#1e1e1e" stroke-width="0.12" textLength="12.33" lengthAdjust="spacingAndGlyphs">→</text>
<linearGradient id="sg22" x1="0" y1="0" x2="0" y2="1"><stop offset="0" stop-color="#000" stop-opacity="0.2"/><stop offset="1" stop-color="#000" stop-opacity="0.16"/></linearGradient>
<rect x="271.8" y="275" width="13.60" height="21.50" fill="url(#sg22)" filter="url(#b2)"/>
<linearGradient id="sg23" x1="0" y1="0" x2="0" y2="1"><stop offset="0" stop-color="#000" stop-opacity="0.2"/><stop offset="1" stop-color="#000" stop-opacity="0.5"/></linearGradient>
<rect x="272.1" y="263.0" width="13.00" height="6.00" fill="url(#sg23)" filter="url(#b2)"/>
<linearGradient id="sg24" x1="0" y1="0" x2="0" y2="1"><stop offset="0" stop-color="#000" stop-opacity="0.2"/><stop offset="1" stop-color="#000" stop-opacity="0.16"/></linearGradient>
<rect x="290.09999999999997" y="275" width="13.60" height="21.50" fill="url(#sg24)" filter="url(#b2)"/>
<linearGradient id="sg25" x1="0" y1="0" x2="0" y2="1"><stop offset="0" stop-color="#000" stop-opacity="0.2"/><stop offset="1" stop-color="#000" stop-opacity="0.5"/></linearGradient>
<rect x="290.4" y="263.0" width="13.00" height="6.00" fill="url(#sg25)" filter="url(#b2)"/>
<linearGradient id="sg26" x1="0" y1="0" x2="0" y2="1"><stop offset="0" stop-color="#000" stop-opacity="0.2"/><stop offset="1" stop-color="#000" stop-opacity="0.16"/></linearGradient>
<rect x="308.3" y="275" width="13.60" height="21.50" fill="url(#sg26)" filter="url(#b2)"/>
<linearGradient id="sg27" x1="0" y1="0" x2="0" y2="1"><stop offset="0" stop-color="#000" stop-opacity="0.2"/><stop offset="1" stop-color="#000" stop-opacity="0.5"/></linearGradient>
<rect x="308.6" y="263.0" width="13.00" height="6.00" fill="url(#sg27)" filter="url(#b2)"/>
<rect x="252.8" y="281.5" width="14.60" height="6.50" rx="1.3" fill="#000" fill-opacity="0.14" filter="url(#b15)"/>
<path d="M252.80,292.40 L252.80,287.40 C254.62,287.40 254.62,288.60 256.45,288.60 C258.27,288.60 258.27,287.82 260.10,287.82 C261.93,287.82 261.93,288.60 263.75,288.60 C265.57,288.60 265.57,287.40 267.40,287.40 L267.40,292.40 Q267.40,294.00 265.80,294.00 L254.40,294.00 Q252.80,294.00 252.80,292.40 Z" fill="#000" fill-opacity="1" filter="url(#b15)"/>
<rect x="253.4" y="293" width="13.40" height="3.50" rx="1.3" fill="#000" fill-opacity="0.2" filter="url(#b15)"/>
<path d="M271.70,274.60 L271.70,267.60 C273.43,267.60 273.43,268.60 275.15,268.60 C276.88,268.60 276.88,267.95 278.60,267.95 C280.33,267.95 280.33,268.60 282.05,268.60 C283.77,268.60 283.77,267.60 285.50,267.60 L285.50,274.60 Q285.50,276.20 283.90,276.20 L273.30,276.20 Q271.70,276.20 271.70,274.60 Z" fill="#000" fill-opacity="1" filter="url(#b15)"/>
<path d="M290.00,274.60 L290.00,267.60 C291.73,267.60 291.73,268.60 293.45,268.60 C295.17,268.60 295.17,267.95 296.90,267.95 C298.62,267.95 298.62,268.60 300.35,268.60 C302.07,268.60 302.07,267.60 303.80,267.60 L303.80,274.60 Q303.80,276.20 302.20,276.20 L291.60,276.20 Q290.00,276.20 290.00,274.60 Z" fill="#000" fill-opacity="1" filter="url(#b15)"/>
<path d="M308.20,274.60 L308.20,267.60 C309.93,267.60 309.93,268.60 311.65,268.60 C313.38,268.60 313.38,267.95 315.10,267.95 C316.83,267.95 316.83,268.60 318.55,268.60 C320.27,268.60 320.27,267.60 322.00,267.60 L322.00,274.60 Q322.00,276.20 320.40,276.20 L309.80,276.20 Q308.20,276.20 308.20,274.60 Z" fill="#000" fill-opacity="1" filter="url(#b15)"/>
<rect x="271.6" y="289.4" width="14.00" height="2.40" rx="1.3" fill="#000" fill-opacity="0.6" filter="url(#b1)"/>
<rect x="289.8" y="289.4" width="14.20" height="2.40" rx="1.3" fill="#000" fill-opacity="0.65" filter="url(#b1)"/>
<rect x="308.2" y="287.8" width="13.80" height="4.60" rx="1.3" fill="#000" fill-opacity="0.95" filter="url(#b15)"/>
<text x="356.4" y="225.0" font-size="15.2" text-anchor="start" fill="#1e1e1e" stroke="#1e1e1e" stroke-width="0.5">I</text>
<line x1="387.4" y1="219.5" x2="387.4" y2="300.0" stroke="#262626" stroke-width="1.1"/>
<line x1="386.84999999999997" y1="299.4" x2="542.15" y2="299.4" stroke="#262626" stroke-width="1.2"/>
<line x1="385.2" y1="225.47999999999996" x2="387.4" y2="225.47999999999996" stroke="#262626" stroke-width="0.8"/>
<text x="382.09999999999997" y="227.22999999999996" font-size="4.9" text-anchor="end" fill="#2c2c2c" stroke="#2c2c2c" stroke-width="0.12" >1.1</text>
<line x1="385.2" y1="237.79999999999998" x2="387.4" y2="237.79999999999998" stroke="#262626" stroke-width="0.8"/>
<text x="382.09999999999997" y="239.54999999999998" font-size="4.9" text-anchor="end" fill="#2c2c2c" stroke="#2c2c2c" stroke-width="0.12" >0.9</text>
<line x1="385.2" y1="250.11999999999998" x2="387.4" y2="250.11999999999998" stroke="#262626" stroke-width="0.8"/>
<text x="382.09999999999997" y="251.86999999999998" font-size="4.9" text-anchor="end" fill="#2c2c2c" stroke="#2c2c2c" stroke-width="0.12" >0.7</text>
<line x1="385.2" y1="262.44" x2="387.4" y2="262.44" stroke="#262626" stroke-width="0.8"/>
<text x="382.09999999999997" y="264.19" font-size="4.9" text-anchor="end" fill="#2c2c2c" stroke="#2c2c2c" stroke-width="0.12" >0.5</text>
<line x1="385.2" y1="274.76" x2="387.4" y2="274.76" stroke="#262626" stroke-width="0.8"/>
<text x="382.09999999999997" y="276.51" font-size="4.9" text-anchor="end" fill="#2c2c2c" stroke="#2c2c2c" stroke-width="0.12" >0.3</text>
<line x1="385.2" y1="287.08" x2="387.4" y2="287.08" stroke="#262626" stroke-width="0.8"/>
<text x="382.09999999999997" y="288.83" font-size="4.9" text-anchor="end" fill="#2c2c2c" stroke="#2c2c2c" stroke-width="0.12" >0.1</text>
<line x1="385.2" y1="299.4" x2="387.4" y2="299.4" stroke="#262626" stroke-width="0.8"/>
<text x="382.09999999999997" y="301.15" font-size="4.9" text-anchor="end" fill="#2c2c2c" stroke="#2c2c2c" stroke-width="0.12" >-0.1</text>
<line x1="387.4" y1="299.4" x2="387.4" y2="301.4" stroke="#262626" stroke-width="0.8"/>
<text x="386.79999999999995" y="309.09999999999997" font-size="4.9" text-anchor="middle" fill="#2c2c2c" stroke="#2c2c2c" stroke-width="0.12" >0.001</text>
<line x1="418.34999999999997" y1="299.4" x2="418.34999999999997" y2="301.4" stroke="#262626" stroke-width="0.8"/>
<text x="418.34999999999997" y="309.09999999999997" font-size="4.9" text-anchor="middle" fill="#2c2c2c" stroke="#2c2c2c" stroke-width="0.12" >0.01</text>
<line x1="449.29999999999995" y1="299.4" x2="449.29999999999995" y2="301.4" stroke="#262626" stroke-width="0.8"/>
<text x="449.29999999999995" y="309.09999999999997" font-size="4.9" text-anchor="middle" fill="#2c2c2c" stroke="#2c2c2c" stroke-width="0.12" >0.1</text>
<line x1="480.25" y1="299.4" x2="480.25" y2="301.4" stroke="#262626" stroke-width="0.8"/>
<text x="480.25" y="309.09999999999997" font-size="4.9" text-anchor="middle" fill="#2c2c2c" stroke="#2c2c2c" stroke-width="0.12" >1</text>
<line x1="511.2" y1="299.4" x2="511.2" y2="301.4" stroke="#262626" stroke-width="0.8"/>
<text x="511.2" y="309.09999999999997" font-size="4.9" text-anchor="middle" fill="#2c2c2c" stroke="#2c2c2c" stroke-width="0.12" >10</text>
<line x1="542.15" y1="299.4" x2="542.15" y2="301.4" stroke="#262626" stroke-width="0.8"/>
<text x="542.15" y="309.09999999999997" font-size="4.9" text-anchor="middle" fill="#2c2c2c" stroke="#2c2c2c" stroke-width="0.12" >100</text>
<text x="468.5" y="316.1" font-size="7.2" text-anchor="middle" fill="#1e1e1e" stroke="#1e1e1e" stroke-width="0.22" >MPND Concentration (µM)</text>
<text x="374.0" y="267" font-size="7.35" text-anchor="middle" fill="#1e1e1e" stroke="#1e1e1e" stroke-width="0.15" transform="rotate(-90 374.0 267)">Fraction Bound</text>
<polyline points="396.72,293.16 398.45,293.15 400.19,293.13 401.93,293.12 403.67,293.10 405.40,293.08 407.14,293.06 408.88,293.04 410.62,293.01 412.36,292.98 414.09,292.94 415.83,292.90 417.57,292.85 419.31,292.80 421.04,292.74 422.78,292.67 424.52,292.60 426.26,292.51 427.99,292.41 429.73,292.30 431.47,292.17 433.21,292.02 434.94,291.86 436.68,291.67 438.42,291.46 440.16,291.23 441.89,290.96 443.63,290.66 445.37,290.32 447.11,289.94 448.84,289.51 450.58,289.03 452.32,288.49 454.06,287.90 455.80,287.23 457.53,286.49 459.27,285.68 461.01,284.78 462.75,283.79 464.48,282.71 466.22,281.53 467.96,280.25 469.70,278.88 471.43,277.41 473.17,275.84 474.91,274.18 476.65,272.44 478.38,270.62 480.12,268.74 481.86,266.81 483.60,264.84 485.33,262.86 487.07,260.87 488.81,258.89 490.55,256.95 492.28,255.04 494.02,253.20 495.76,251.42 497.50,249.73 499.24,248.12 500.97,246.61 502.71,245.19 504.45,243.88 506.19,242.66 507.92,241.54 509.66,240.51 511.40,239.57 513.14,238.72 514.87,237.95 516.61,237.25 518.35,236.63 520.09,236.07 521.82,235.56 523.56,235.12 525.30,234.72 527.04,234.36 528.77,234.04 530.51,233.76 532.25,233.51 533.99,233.29 535.72,233.10" fill="none" stroke="#2b9a68" stroke-width="1.35" stroke-linecap="round"/>
<polyline points="396.72,293.22 398.45,293.22 400.19,293.22 401.93,293.22 403.67,293.21 405.40,293.21 407.14,293.21 408.88,293.20 410.62,293.20 412.36,293.19 414.09,293.18 415.83,293.18 417.57,293.17 419.31,293.16 421.04,293.15 422.78,293.13 424.52,293.12 426.26,293.10 427.99,293.08 429.73,293.06 431.47,293.04 433.21,293.01 434.94,292.98 436.68,292.94 438.42,292.90 440.16,292.85 441.89,292.80 443.63,292.74 445.37,292.67 447.11,292.59 448.84,292.50 450.58,292.40 452.32,292.29 454.06,292.16 455.80,292.02 457.53,291.85 459.27,291.66 461.01,291.45 462.75,291.22 464.48,290.95 466.22,290.64 467.96,290.30 469.70,289.92 471.43,289.49 473.17,289.01 474.91,288.47 476.65,287.86 478.38,287.20 480.12,286.45 481.86,285.63 483.60,284.73 485.33,283.73 487.07,282.65 488.81,281.47 490.55,280.19 492.28,278.81 494.02,277.33 495.76,275.76 497.50,274.09 499.24,272.35 500.97,270.53 502.71,268.64 504.45,266.71 506.19,264.74 507.92,262.76 509.66,260.77 511.40,258.79 513.14,256.85 514.87,254.95 516.61,253.11 518.35,251.34 520.09,249.65 521.82,248.04 523.56,246.54 525.30,245.12 527.04,243.81 528.77,242.60 530.51,241.48 532.25,240.46 533.99,239.53 535.72,238.68" fill="none" stroke="#a32a2e" stroke-width="1.35" stroke-linecap="round"/>
<polyline points="396.72,293.24 398.52,293.23 400.32,293.23 402.13,293.23 403.93,293.23 405.74,293.23 407.54,293.23 409.34,293.23 411.15,293.23 412.95,293.22 414.76,293.22 416.56,293.22 418.36,293.22 420.17,293.21 421.97,293.21 423.78,293.21 425.58,293.20 427.38,293.19 429.19,293.19 430.99,293.18 432.79,293.17 434.60,293.16 436.40,293.15 438.21,293.14 440.01,293.12 441.81,293.11 443.62,293.09 445.42,293.07 447.23,293.04 449.03,293.01 450.83,292.98 452.64,292.94 454.44,292.90 456.25,292.85 458.05,292.80 459.85,292.74 461.66,292.66 463.46,292.58 465.27,292.49 467.07,292.38 468.87,292.26 470.68,292.12 472.48,291.97 474.28,291.79 476.09,291.59 477.89,291.36 479.70,291.10 481.50,290.80 483.30,290.46 485.11,290.09 486.91,289.66 488.72,289.18 490.52,288.64 492.32,288.03 494.13,287.36 495.93,286.60 497.74,285.77 499.54,284.84 501.34,283.82 503.15,282.70 504.95,281.47 506.76,280.14 508.56,278.70 510.36,277.16 512.17,275.52 513.97,273.77 515.77,271.94 517.58,270.04 519.38,268.07 521.19,266.05 522.99,264.00 524.79,261.93 526.60,259.87 528.40,257.83 530.21,255.84 532.01,253.89 533.81,252.02 535.62,250.24 537.42,248.54 539.23,246.95 541.03,245.46" fill="none" stroke="#33a9e2" stroke-width="1.35" stroke-linecap="round"/>
<rect x="489.40" y="245.90" width="1.2" height="5.00" fill="#2b9a68" fill-opacity="0.85"/>
<rect x="498.00" y="243.40" width="1.2" height="3.00" fill="#2b9a68" fill-opacity="0.85"/>
<rect x="507.40" y="240.90" width="1.2" height="2.00" fill="#2b9a68" fill-opacity="0.85"/>
<rect x="526.10" y="230.50" width="1.2" height="3.00" fill="#2b9a68" fill-opacity="0.85"/>
<rect x="480.00" y="270.80" width="1.2" height="2.00" fill="#2b9a68" fill-opacity="0.85"/>
<rect x="469.90" y="284.60" width="1.2" height="1.60" fill="#2b9a68" fill-opacity="0.85"/>
<rect x="515.60" y="247.10" width="1.2" height="5.00" fill="#a32a2e" fill-opacity="0.85"/>
<rect x="525.00" y="239.90" width="1.2" height="4.00" fill="#a32a2e" fill-opacity="0.85"/>
<rect x="533.90" y="239.40" width="1.2" height="4.00" fill="#a32a2e" fill-opacity="0.85"/>
<rect x="506.20" y="262.60" width="1.2" height="2.00" fill="#a32a2e" fill-opacity="0.85"/>
<rect x="496.90" y="274.40" width="1.2" height="2.00" fill="#a32a2e" fill-opacity="0.85"/>
<rect x="487.50" y="281.60" width="1.2" height="1.60" fill="#a32a2e" fill-opacity="0.85"/>
<rect x="477.70" y="286.20" width="1.2" height="1.60" fill="#a32a2e" fill-opacity="0.85"/>
<rect x="540.20" y="244.10" width="1.2" height="4.00" fill="#33a9e2" fill-opacity="0.85"/>
<rect x="530.80" y="250.70" width="1.2" height="2.40" fill="#33a9e2" fill-opacity="0.85"/>
<rect x="520.80" y="264.80" width="1.2" height="2.40" fill="#33a9e2" fill-opacity="0.85"/>
<rect x="512.10" y="273.20" width="1.2" height="2.00" fill="#33a9e2" fill-opacity="0.85"/>
<rect x="502.70" y="282.70" width="1.2" height="1.60" fill="#33a9e2" fill-opacity="0.85"/>
<rect x="493.40" y="286.20" width="1.2" height="1.60" fill="#33a9e2" fill-opacity="0.85"/>
<rect x="396.20" y="295.30" width="1.2" height="3.00" fill="#2b9a68" fill-opacity="0.85"/>
<rect x="395.40" y="292.70" width="1.2" height="1.40" fill="#a32a2e" fill-opacity="0.85"/>
<rect x="404.50" y="290.70" width="1.2" height="1.40" fill="#a32a2e" fill-opacity="0.85"/>
<rect x="405.70" y="292.70" width="1.2" height="1.40" fill="#2b9a68" fill-opacity="0.85"/>
<rect x="413.90" y="294.20" width="1.2" height="1.40" fill="#a32a2e" fill-opacity="0.85"/>
<rect x="414.80" y="288.50" width="1.2" height="1.60" fill="#2b9a68" fill-opacity="0.85"/>
<rect x="423.40" y="289.70" width="1.2" height="1.40" fill="#a32a2e" fill-opacity="0.85"/>
<rect x="418.80" y="293.10" width="1.2" height="1.40" fill="#33a9e2" fill-opacity="0.85"/>
<rect x="433.40" y="286.30" width="1.2" height="3.00" fill="#2b9a68" fill-opacity="0.85"/>
<rect x="432.40" y="291.90" width="1.2" height="1.40" fill="#a32a2e" fill-opacity="0.85"/>
<rect x="437.70" y="292.70" width="1.2" height="1.40" fill="#33a9e2" fill-opacity="0.85"/>
<rect x="441.40" y="292.20" width="1.2" height="1.40" fill="#a32a2e" fill-opacity="0.85"/>
<rect x="442.50" y="289.40" width="1.2" height="1.40" fill="#2b9a68" fill-opacity="0.85"/>
<rect x="446.70" y="294.90" width="1.2" height="1.40" fill="#33a9e2" fill-opacity="0.85"/>
<rect x="451.30" y="292.70" width="1.2" height="1.40" fill="#a32a2e" fill-opacity="0.85"/>
<rect x="461.10" y="288.10" width="1.2" height="1.60" fill="#2b9a68" fill-opacity="0.85"/>
<rect x="460.30" y="289.70" width="1.2" height="1.40" fill="#a32a2e" fill-opacity="0.85"/>
<line x1="409" y1="233" x2="460.6" y2="233" stroke="#6a6a6a" stroke-width="1.0"/>
<line x1="409" y1="240.9" x2="460.6" y2="240.9" stroke="#6a6a6a" stroke-width="1.0"/>
<line x1="409" y1="263.6" x2="460.6" y2="263.6" stroke="#9a9a9a" stroke-width="1.3"/>
<line x1="431.9" y1="233" x2="431.9" y2="263.6" stroke="#555" stroke-width="0.9"/>
<text x="420.6" y="239.218" font-size="6.3" text-anchor="middle" fill="#1e1e1e" stroke="#1e1e1e" stroke-width="0.1" >MPND</text>
<text x="446.4" y="239.218" font-size="6.3" text-anchor="middle" fill="#1e1e1e" stroke="#1e1e1e" stroke-width="0.1">K<tspan font-size="4.284" dy="0.9">D</tspan><tspan dy="-0.9"> (µM)</tspan></text>
<text x="420.6" y="247.66" font-size="6.0" text-anchor="middle" fill="#2b9a68" stroke="#2b9a68" stroke-width="0.12" >2-160</text>
<text x="446.4" y="247.66" font-size="6.0" text-anchor="middle" fill="#2b9a68" stroke="#2b9a68" stroke-width="0.12" >1.5 ± 0.4</text>
<text x="420.6" y="254.56" font-size="6.0" text-anchor="middle" fill="#a32a2e" stroke="#a32a2e" stroke-width="0.12" >32-192</text>
<text x="446.4" y="254.56" font-size="6.0" text-anchor="middle" fill="#a32a2e" stroke="#a32a2e" stroke-width="0.12" >8.0 ± 1.0</text>
<text x="420.6" y="261.46000000000004" font-size="6.0" text-anchor="middle" fill="#33a9e2" stroke="#33a9e2" stroke-width="0.12" >2-192</text>
<text x="446.4" y="261.46000000000004" font-size="6.0" text-anchor="middle" fill="#33a9e2" stroke="#33a9e2" stroke-width="0.12" >26.6 ± 3.7</text>
</svg>
</body></html>
